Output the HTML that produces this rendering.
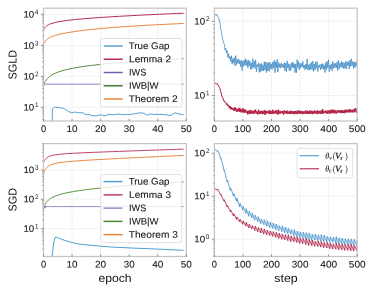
<!DOCTYPE html><html><head><meta charset="utf-8"><style>html,body{margin:0;padding:0;background:#fff;width:374px;height:293px;overflow:hidden}</style></head><body><svg width="374" height="293" viewBox="0 0 374 293" style="position:absolute;left:0;top:0;filter:blur(0.3px)">
<rect width="374" height="293" fill="#fff"/>
<defs>
<clipPath id="cTL"><rect x="43.5" y="8.2" width="142.80" height="112.80"/></clipPath>
<clipPath id="cTR"><rect x="214.4" y="8.2" width="142.80" height="112.80"/></clipPath>
<clipPath id="cBL"><rect x="43.5" y="143.6" width="142.80" height="112.90"/></clipPath>
<clipPath id="cBR"><rect x="214.4" y="143.6" width="142.80" height="112.90"/></clipPath>
</defs>
<line x1="72.06" y1="8.2" x2="72.06" y2="121.0" stroke="#ebebeb" stroke-width="0.9" stroke-dasharray="2.1,0.9"/>
<line x1="100.62" y1="8.2" x2="100.62" y2="121.0" stroke="#ebebeb" stroke-width="0.9" stroke-dasharray="2.1,0.9"/>
<line x1="129.18" y1="8.2" x2="129.18" y2="121.0" stroke="#ebebeb" stroke-width="0.9" stroke-dasharray="2.1,0.9"/>
<line x1="157.74" y1="8.2" x2="157.74" y2="121.0" stroke="#ebebeb" stroke-width="0.9" stroke-dasharray="2.1,0.9"/>
<line x1="43.5" y1="14.40" x2="186.3" y2="14.40" stroke="#ebebeb" stroke-width="0.9" stroke-dasharray="2.1,0.9"/>
<line x1="43.5" y1="45.60" x2="186.3" y2="45.60" stroke="#ebebeb" stroke-width="0.9" stroke-dasharray="2.1,0.9"/>
<line x1="43.5" y1="76.35" x2="186.3" y2="76.35" stroke="#ebebeb" stroke-width="0.9" stroke-dasharray="2.1,0.9"/>
<line x1="43.5" y1="107.30" x2="186.3" y2="107.30" stroke="#ebebeb" stroke-width="0.9" stroke-dasharray="2.1,0.9"/>
<line x1="242.96" y1="8.2" x2="242.96" y2="121.0" stroke="#ebebeb" stroke-width="0.9" stroke-dasharray="2.1,0.9"/>
<line x1="271.52" y1="8.2" x2="271.52" y2="121.0" stroke="#ebebeb" stroke-width="0.9" stroke-dasharray="2.1,0.9"/>
<line x1="300.08" y1="8.2" x2="300.08" y2="121.0" stroke="#ebebeb" stroke-width="0.9" stroke-dasharray="2.1,0.9"/>
<line x1="328.64" y1="8.2" x2="328.64" y2="121.0" stroke="#ebebeb" stroke-width="0.9" stroke-dasharray="2.1,0.9"/>
<line x1="214.4" y1="21.30" x2="357.2" y2="21.30" stroke="#ebebeb" stroke-width="0.9" stroke-dasharray="2.1,0.9"/>
<line x1="214.4" y1="95.50" x2="357.2" y2="95.50" stroke="#ebebeb" stroke-width="0.9" stroke-dasharray="2.1,0.9"/>
<line x1="72.06" y1="143.6" x2="72.06" y2="256.5" stroke="#ebebeb" stroke-width="0.9" stroke-dasharray="2.1,0.9"/>
<line x1="100.62" y1="143.6" x2="100.62" y2="256.5" stroke="#ebebeb" stroke-width="0.9" stroke-dasharray="2.1,0.9"/>
<line x1="129.18" y1="143.6" x2="129.18" y2="256.5" stroke="#ebebeb" stroke-width="0.9" stroke-dasharray="2.1,0.9"/>
<line x1="157.74" y1="143.6" x2="157.74" y2="256.5" stroke="#ebebeb" stroke-width="0.9" stroke-dasharray="2.1,0.9"/>
<line x1="43.5" y1="170.00" x2="186.3" y2="170.00" stroke="#ebebeb" stroke-width="0.9" stroke-dasharray="2.1,0.9"/>
<line x1="43.5" y1="199.20" x2="186.3" y2="199.20" stroke="#ebebeb" stroke-width="0.9" stroke-dasharray="2.1,0.9"/>
<line x1="43.5" y1="228.60" x2="186.3" y2="228.60" stroke="#ebebeb" stroke-width="0.9" stroke-dasharray="2.1,0.9"/>
<line x1="242.96" y1="143.6" x2="242.96" y2="256.5" stroke="#ebebeb" stroke-width="0.9" stroke-dasharray="2.1,0.9"/>
<line x1="271.52" y1="143.6" x2="271.52" y2="256.5" stroke="#ebebeb" stroke-width="0.9" stroke-dasharray="2.1,0.9"/>
<line x1="300.08" y1="143.6" x2="300.08" y2="256.5" stroke="#ebebeb" stroke-width="0.9" stroke-dasharray="2.1,0.9"/>
<line x1="328.64" y1="143.6" x2="328.64" y2="256.5" stroke="#ebebeb" stroke-width="0.9" stroke-dasharray="2.1,0.9"/>
<line x1="214.4" y1="153.20" x2="357.2" y2="153.20" stroke="#ebebeb" stroke-width="0.9" stroke-dasharray="2.1,0.9"/>
<line x1="214.4" y1="196.10" x2="357.2" y2="196.10" stroke="#ebebeb" stroke-width="0.9" stroke-dasharray="2.1,0.9"/>
<line x1="214.4" y1="239.20" x2="357.2" y2="239.20" stroke="#ebebeb" stroke-width="0.9" stroke-dasharray="2.1,0.9"/>
<path d="M43.60,84.15 L183.30,84.15" fill="none" stroke="#8271b8" stroke-width="0.9" stroke-linejoin="round" stroke-linecap="round" clip-path="url(#cTL)" />
<path d="M43.98,84.13 L44.08,83.97 L44.21,83.74 L44.36,83.42 L44.54,83.03 L44.76,82.57 L45.02,82.03 L45.35,81.43 L45.74,80.77 L46.21,80.05 L46.78,79.28 L47.48,78.47 L48.32,77.61 L49.34,76.72 L50.57,75.80 L52.07,74.84 L55.43,73.15 L58.80,71.84 L62.16,70.76 L65.53,69.86 L68.89,69.07 L72.26,68.37 L75.62,67.75 L78.99,67.18 L82.35,66.66 L85.72,66.18 L89.08,65.74 L92.45,65.32 L95.81,64.93 L99.18,64.56 L102.54,64.21 L105.91,63.88 L109.27,63.56 L112.64,63.26 L116.00,62.97 L119.37,62.69 L122.73,62.42 L126.10,62.16 L129.46,61.91 L132.83,61.67 L136.19,61.44 L139.56,61.22 L142.92,61.00 L146.29,60.79 L149.65,60.58 L153.02,60.38 L156.38,60.18 L159.75,59.99 L163.11,59.81 L166.48,59.62 L169.84,59.45 L173.21,59.27 L176.57,59.10 L179.94,58.94 L183.30,58.78" fill="none" stroke="#428030" stroke-width="0.9" stroke-linejoin="round" stroke-linecap="round" clip-path="url(#cTL)" />
<path d="M43.60,44.29 L43.63,44.23 L43.65,44.16 L43.68,44.07 L43.72,43.97 L43.77,43.85 L43.83,43.71 L43.90,43.55 L43.98,43.36 L44.08,43.14 L44.21,42.88 L44.36,42.59 L44.54,42.26 L44.76,41.90 L45.02,41.50 L45.35,41.06 L45.74,40.59 L46.21,40.08 L46.78,39.55 L47.48,38.99 L48.32,38.41 L49.34,37.82 L50.57,37.20 L52.07,36.56 L55.43,35.41 L58.80,34.50 L62.16,33.73 L65.53,33.06 L68.89,32.45 L72.26,31.91 L75.62,31.41 L78.99,30.94 L82.35,30.51 L85.72,30.10 L89.08,29.72 L92.45,29.36 L95.81,29.02 L99.18,28.69 L102.54,28.38 L105.91,28.08 L109.27,27.80 L112.64,27.52 L116.00,27.26 L119.37,27.01 L122.73,26.77 L126.10,26.53 L129.46,26.31 L132.83,26.09 L136.19,25.88 L139.56,25.68 L142.92,25.48 L146.29,25.29 L149.65,25.10 L153.02,24.92 L156.38,24.75 L159.75,24.58 L163.11,24.41 L166.48,24.25 L169.84,24.09 L173.21,23.94 L176.57,23.79 L179.94,23.65 L183.30,23.51" fill="none" stroke="#e8863e" stroke-width="1.0" stroke-linejoin="round" stroke-linecap="round" clip-path="url(#cTL)" />
<path d="M43.60,29.87 L43.63,29.81 L43.65,29.75 L43.68,29.67 L43.72,29.57 L43.77,29.46 L43.83,29.34 L43.90,29.19 L43.98,29.01 L44.08,28.81 L44.21,28.59 L44.36,28.33 L44.54,28.05 L44.76,27.73 L45.02,27.39 L45.35,27.02 L45.74,26.62 L46.21,26.19 L46.78,25.75 L47.48,25.29 L48.32,24.81 L49.34,24.32 L50.57,23.82 L52.07,23.32 L55.43,22.42 L58.80,21.73 L62.16,21.16 L65.53,20.67 L68.89,20.24 L72.26,19.86 L75.62,19.50 L78.99,19.18 L82.35,18.87 L85.72,18.58 L89.08,18.31 L92.45,18.05 L95.81,17.81 L99.18,17.57 L102.54,17.34 L105.91,17.12 L109.27,16.90 L112.64,16.70 L116.00,16.49 L119.37,16.30 L122.73,16.11 L126.10,15.92 L129.46,15.74 L132.83,15.56 L136.19,15.38 L139.56,15.21 L142.92,15.04 L146.29,14.88 L149.65,14.72 L153.02,14.56 L156.38,14.40 L159.75,14.24 L163.11,14.09 L166.48,13.94 L169.84,13.79 L173.21,13.65 L176.57,13.50 L179.94,13.36 L183.30,13.22" fill="none" stroke="#b32a55" stroke-width="1.0" stroke-linejoin="round" stroke-linecap="round" clip-path="url(#cTL)" />
<path d="M52.30,125.40 L52.30,109.00 L53.60,107.70 L55.60,107.00 L59.00,107.70 L62.70,108.10 L65.40,109.50 L68.60,111.60 L71.80,112.70 L75.00,112.00 L78.20,112.70 L83.00,112.80 L85.00,114.40 L88.00,114.40 L93.00,115.80 L97.00,115.80 L101.00,114.80 L105.00,115.80 L109.00,114.40 L114.00,114.80 L118.00,114.00 L123.00,114.80 L127.00,114.40 L131.00,114.40 L135.00,113.60 L141.00,112.80 L144.00,113.40 L147.00,115.20 L150.00,114.00 L155.00,114.40 L161.00,114.40 L166.00,114.80 L170.00,115.60 L175.00,112.80 L179.00,114.00 L183.30,114.80" fill="none" stroke="#5aa3d0" stroke-width="1.0" stroke-linejoin="round" stroke-linecap="round" clip-path="url(#cTL)" />
<path d="M43.60,207.90 L43.63,207.89 L43.65,207.88 L43.67,207.87 L43.70,207.85 L43.75,207.83 L43.83,207.80 L43.94,207.76 L44.10,207.70 L44.30,207.63 L44.54,207.53 L44.81,207.42 L45.11,207.31 L45.43,207.19 L45.77,207.08 L46.13,206.98 L46.50,206.90 L46.01,206.84 L44.28,206.78 L42.07,206.74 L40.12,206.70 L39.21,206.67 L40.06,206.64 L43.44,206.62 L50.10,206.60 L61.46,206.59 L77.41,206.58 L96.41,206.58 L116.93,206.58 L137.41,206.59 L156.33,206.59 L172.14,206.60 L183.30,206.60" fill="none" stroke="#9c8cc8" stroke-width="1.0" stroke-linejoin="round" stroke-linecap="round" clip-path="url(#cBL)" />
<path d="M43.60,208.29 L43.63,208.39 L43.65,208.46 L43.68,208.49 L43.72,208.47 L43.77,208.41 L43.83,208.28 L43.90,208.08 L43.98,207.81 L44.08,207.48 L44.21,207.07 L44.36,206.59 L44.54,206.06 L44.76,205.46 L45.02,204.81 L45.35,204.12 L45.74,203.38 L46.21,202.61 L46.78,201.82 L47.48,201.00 L48.32,200.16 L49.34,199.31 L50.57,198.44 L52.07,197.57 L55.43,196.03 L58.80,194.86 L62.16,193.91 L65.53,193.10 L68.89,192.39 L72.26,191.76 L75.62,191.19 L78.99,190.66 L82.35,190.18 L85.72,189.73 L89.08,189.30 L92.45,188.90 L95.81,188.52 L99.18,188.16 L102.54,187.81 L105.91,187.48 L109.27,187.16 L112.64,186.85 L116.00,186.55 L119.37,186.26 L122.73,185.98 L126.10,185.71 L129.46,185.44 L132.83,185.19 L136.19,184.93 L139.56,184.69 L142.92,184.45 L146.29,184.21 L149.65,183.98 L153.02,183.76 L156.38,183.54 L159.75,183.32 L163.11,183.11 L166.48,182.90 L169.84,182.69 L173.21,182.49 L176.57,182.29 L179.94,182.10 L183.30,181.90" fill="none" stroke="#4b8a33" stroke-width="0.9" stroke-linejoin="round" stroke-linecap="round" clip-path="url(#cBL)" />
<path d="M43.60,173.22 L43.63,173.19 L43.65,173.15 L43.68,173.10 L43.72,173.02 L43.77,172.93 L43.83,172.80 L43.90,172.63 L43.98,172.42 L44.08,172.17 L44.21,171.86 L44.36,171.49 L44.54,171.06 L44.76,170.58 L45.02,170.05 L45.35,169.48 L45.74,168.86 L46.21,168.22 L46.78,167.56 L47.48,166.90 L48.32,166.24 L49.34,165.60 L50.57,164.97 L52.07,164.38 L55.43,163.42 L58.80,162.76 L62.16,162.27 L65.53,161.88 L68.89,161.54 L72.26,161.26 L75.62,160.99 L78.99,160.76 L82.35,160.53 L85.72,160.32 L89.08,160.12 L92.45,159.93 L95.81,159.74 L99.18,159.55 L102.54,159.37 L105.91,159.20 L109.27,159.02 L112.64,158.85 L116.00,158.68 L119.37,158.51 L122.73,158.34 L126.10,158.17 L129.46,158.00 L132.83,157.84 L136.19,157.67 L139.56,157.51 L142.92,157.35 L146.29,157.18 L149.65,157.02 L153.02,156.86 L156.38,156.70 L159.75,156.54 L163.11,156.38 L166.48,156.22 L169.84,156.06 L173.21,155.90 L176.57,155.74 L179.94,155.58 L183.30,155.42" fill="none" stroke="#e8863e" stroke-width="1.0" stroke-linejoin="round" stroke-linecap="round" clip-path="url(#cBL)" />
<path d="M43.60,162.01 L43.63,161.99 L43.65,161.96 L43.68,161.93 L43.72,161.87 L43.77,161.80 L43.83,161.71 L43.90,161.59 L43.98,161.44 L44.08,161.25 L44.21,161.02 L44.36,160.75 L44.54,160.44 L44.76,160.08 L45.02,159.69 L45.35,159.26 L45.74,158.81 L46.21,158.34 L46.78,157.86 L47.48,157.37 L48.32,156.89 L49.34,156.42 L50.57,155.97 L52.07,155.54 L55.43,154.85 L58.80,154.39 L62.16,154.04 L65.53,153.76 L68.89,153.53 L72.26,153.32 L75.62,153.14 L78.99,152.97 L82.35,152.82 L85.72,152.67 L89.08,152.53 L92.45,152.39 L95.81,152.26 L99.18,152.12 L102.54,152.00 L105.91,151.87 L109.27,151.74 L112.64,151.62 L116.00,151.50 L119.37,151.37 L122.73,151.25 L126.10,151.13 L129.46,151.01 L132.83,150.89 L136.19,150.77 L139.56,150.65 L142.92,150.53 L146.29,150.41 L149.65,150.29 L153.02,150.17 L156.38,150.06 L159.75,149.94 L163.11,149.82 L166.48,149.70 L169.84,149.58 L173.21,149.47 L176.57,149.35 L179.94,149.23 L183.30,149.11" fill="none" stroke="#bd4068" stroke-width="1.0" stroke-linejoin="round" stroke-linecap="round" clip-path="url(#cBL)" />
<path d="M52.00,258.00 L53.10,247.30 L54.20,240.80 L55.20,237.40 L57.40,237.40 L60.00,238.70 L65.40,240.60 L70.70,242.10 L76.10,243.50 L81.40,244.30 L90.00,245.20 L99.70,246.10 L109.30,246.90 L128.90,247.90 L157.70,249.10 L183.30,250.30" fill="none" stroke="#4e9fd2" stroke-width="1.0" stroke-linejoin="round" stroke-linecap="round" clip-path="url(#cBL)" />
<path d="M215.00,15.28 L215.71,14.03 L216.43,15.39 L217.14,14.61 L217.86,17.19 L218.57,17.80 L219.28,20.00 L220.00,23.17 L220.71,29.64 L221.43,31.68 L222.14,36.82 L222.85,39.64 L223.57,42.80 L224.28,43.88 L225.00,49.91 L225.71,48.17 L226.42,53.04 L227.14,50.37 L227.85,57.40 L228.57,53.85 L229.28,58.82 L229.99,56.57 L230.71,61.69 L231.42,55.76 L232.14,64.32 L232.85,58.63 L233.56,62.87 L234.28,57.57 L234.99,65.69 L235.71,55.63 L236.42,64.81 L237.13,59.52 L237.85,63.34 L238.56,58.81 L239.28,64.08 L239.99,60.23 L240.70,66.57 L241.42,60.37 L242.13,70.55 L242.85,60.95 L243.56,66.27 L244.27,60.11 L244.99,65.43 L245.70,58.60 L246.42,65.51 L247.13,60.36 L247.84,67.66 L248.56,60.19 L249.27,66.05 L249.99,61.06 L250.70,69.32 L251.41,63.02 L252.13,68.91 L252.84,58.81 L253.56,67.26 L254.27,61.31 L254.98,68.60 L255.70,59.93 L256.41,71.75 L257.13,64.45 L257.84,66.97 L258.55,62.76 L259.27,72.42 L259.98,63.87 L260.70,71.62 L261.41,63.39 L262.12,70.99 L262.84,64.78 L263.55,70.77 L264.27,61.69 L264.98,70.13 L265.69,61.98 L266.41,72.60 L267.12,62.70 L267.84,70.75 L268.55,62.63 L269.26,71.50 L269.98,62.33 L270.69,68.75 L271.41,64.18 L272.12,69.55 L272.83,61.99 L273.55,67.63 L274.26,60.21 L274.98,72.76 L275.69,61.79 L276.40,67.84 L277.12,59.30 L277.83,72.13 L278.55,62.50 L279.26,67.39 L279.97,63.74 L280.69,68.27 L281.40,63.15 L282.12,67.15 L282.83,64.17 L283.54,67.97 L284.26,62.66 L284.97,70.68 L285.69,63.07 L286.40,71.60 L287.11,60.80 L287.83,67.92 L288.54,63.76 L289.26,70.62 L289.97,64.48 L290.68,70.61 L291.40,62.95 L292.11,67.90 L292.83,61.96 L293.54,67.75 L294.25,63.58 L294.97,72.68 L295.68,63.97 L296.40,72.68 L297.11,59.73 L297.82,67.62 L298.54,61.56 L299.25,70.00 L299.97,63.31 L300.68,67.93 L301.39,63.54 L302.11,66.93 L302.82,61.27 L303.54,68.15 L304.25,64.98 L304.96,69.78 L305.68,64.12 L306.39,69.06 L307.11,58.88 L307.82,69.84 L308.53,64.78 L309.25,70.23 L309.96,63.71 L310.68,69.30 L311.39,62.37 L312.10,69.70 L312.82,60.99 L313.53,71.49 L314.25,64.02 L314.96,70.07 L315.67,61.91 L316.39,68.22 L317.10,61.57 L317.82,71.48 L318.53,65.48 L319.24,67.46 L319.96,64.42 L320.67,69.91 L321.39,64.11 L322.10,68.85 L322.81,63.63 L323.53,69.23 L324.24,64.96 L324.96,72.51 L325.67,62.70 L326.38,69.68 L327.10,61.30 L327.81,67.94 L328.53,59.71 L329.24,71.67 L329.95,64.97 L330.67,68.94 L331.38,63.80 L332.10,70.95 L332.81,61.52 L333.52,68.48 L334.24,63.42 L334.95,67.70 L335.67,63.23 L336.38,68.08 L337.09,61.78 L337.81,70.63 L338.52,60.16 L339.24,68.81 L339.95,63.04 L340.66,67.01 L341.38,61.61 L342.09,67.63 L342.81,62.08 L343.52,68.56 L344.23,63.00 L344.95,68.51 L345.66,61.09 L346.38,69.03 L347.09,61.61 L347.80,65.54 L348.52,61.72 L349.23,69.04 L349.95,60.11 L350.66,66.35 L351.37,58.87 L352.09,65.89 L352.80,61.67 L353.52,68.29 L354.23,61.83 L354.94,67.67 L355.66,62.40 L356.37,66.15 L357.09,60.41" fill="none" stroke="#3385c2" stroke-width="0.72" stroke-linejoin="round" stroke-linecap="round" clip-path="url(#cTR)" />
<path d="M215.00,83.66 L215.71,83.19 L216.43,83.95 L217.14,83.65 L217.86,85.13 L218.57,85.36 L219.28,87.45 L220.00,88.61 L220.71,91.73 L221.43,94.07 L222.14,97.13 L222.85,97.79 L223.57,100.82 L224.28,100.71 L225.00,102.47 L225.71,102.16 L226.42,104.65 L227.14,103.56 L227.85,106.06 L228.57,104.91 L229.28,108.31 L229.99,105.81 L230.71,109.31 L231.42,107.15 L232.14,109.63 L232.85,107.94 L233.56,110.87 L234.28,107.33 L234.99,110.70 L235.71,107.57 L236.42,111.82 L237.13,108.88 L237.85,111.65 L238.56,107.97 L239.28,111.75 L239.99,107.96 L240.70,112.21 L241.42,109.52 L242.13,112.46 L242.85,108.16 L243.56,112.51 L244.27,109.04 L244.99,112.82 L245.70,109.72 L246.42,112.85 L247.13,110.76 L247.84,114.51 L248.56,110.74 L249.27,113.75 L249.99,109.92 L250.70,113.88 L251.41,110.63 L252.13,113.77 L252.84,110.81 L253.56,114.05 L254.27,110.08 L254.98,113.41 L255.70,109.56 L256.41,113.44 L257.13,111.24 L257.84,114.53 L258.55,109.74 L259.27,114.13 L259.98,110.77 L260.70,113.85 L261.41,110.93 L262.12,114.13 L262.84,110.85 L263.55,113.88 L264.27,110.14 L264.98,114.95 L265.69,110.65 L266.41,113.51 L267.12,110.78 L267.84,113.38 L268.55,110.91 L269.26,114.08 L269.98,109.95 L270.69,113.99 L271.41,111.14 L272.12,114.02 L272.83,109.66 L273.55,113.91 L274.26,111.24 L274.98,113.56 L275.69,110.22 L276.40,113.57 L277.12,110.26 L277.83,114.76 L278.55,109.74 L279.26,113.93 L279.97,110.87 L280.69,113.40 L281.40,111.21 L282.12,113.40 L282.83,110.96 L283.54,114.73 L284.26,110.19 L284.97,113.56 L285.69,110.99 L286.40,113.63 L287.11,110.48 L287.83,113.89 L288.54,111.55 L289.26,114.00 L289.97,110.69 L290.68,113.96 L291.40,110.86 L292.11,113.83 L292.83,111.11 L293.54,114.10 L294.25,110.98 L294.97,114.15 L295.68,110.99 L296.40,113.74 L297.11,110.75 L297.82,114.12 L298.54,110.45 L299.25,113.67 L299.97,110.58 L300.68,113.54 L301.39,111.21 L302.11,114.23 L302.82,111.05 L303.54,113.97 L304.25,111.24 L304.96,113.83 L305.68,110.59 L306.39,113.83 L307.11,110.62 L307.82,114.06 L308.53,111.28 L309.25,113.83 L309.96,110.37 L310.68,113.66 L311.39,110.79 L312.10,114.26 L312.82,111.02 L313.53,113.84 L314.25,110.38 L314.96,113.55 L315.67,111.23 L316.39,113.86 L317.10,110.15 L317.82,114.13 L318.53,110.95 L319.24,113.52 L319.96,110.63 L320.67,113.87 L321.39,110.47 L322.10,114.01 L322.81,109.00 L323.53,113.44 L324.24,111.09 L324.96,113.07 L325.67,110.63 L326.38,113.47 L327.10,110.52 L327.81,113.76 L328.53,110.72 L329.24,113.52 L329.95,109.85 L330.67,113.44 L331.38,109.73 L332.10,113.38 L332.81,109.64 L333.52,113.10 L334.24,109.78 L334.95,113.62 L335.67,110.46 L336.38,113.59 L337.09,110.55 L337.81,112.77 L338.52,110.05 L339.24,112.70 L339.95,110.10 L340.66,113.01 L341.38,110.02 L342.09,113.32 L342.81,110.30 L343.52,112.97 L344.23,110.10 L344.95,113.28 L345.66,109.56 L346.38,112.31 L347.09,109.77 L347.80,112.54 L348.52,109.57 L349.23,112.39 L349.95,109.20 L350.66,112.28 L351.37,109.84 L352.09,112.49 L352.80,109.68 L353.52,112.37 L354.23,108.72 L354.94,112.12 L355.66,108.10 L356.37,112.69 L357.09,109.11" fill="none" stroke="#b0173f" stroke-width="1.0" stroke-linejoin="round" stroke-linecap="round" clip-path="url(#cTR)" />
<path d="M214.97,149.65 L215.04,149.68 L215.11,149.71 L215.19,149.75 L215.26,149.78 L215.33,149.82 L215.40,149.86 L215.47,149.89 L215.54,149.93 L215.61,149.97 L215.69,150.01 L215.76,150.05 L215.83,150.09 L215.90,150.13 L215.97,150.17 L216.04,150.21 L216.11,150.26 L216.19,150.30 L216.26,150.35 L216.33,150.39 L216.40,150.44 L216.47,150.48 L216.54,150.53 L216.61,150.58 L216.68,150.63 L216.76,150.67 L216.83,150.72 L216.90,150.77 L216.97,150.89 L217.04,151.01 L217.11,151.12 L217.18,151.24 L217.26,151.36 L217.33,151.39 L217.40,151.26 L217.47,151.12 L217.54,150.99 L217.61,150.84 L217.68,150.69 L217.76,150.80 L217.83,150.92 L217.90,151.03 L217.97,151.14 L218.04,151.25 L218.11,151.37 L218.18,151.48 L218.26,151.60 L218.33,151.72 L218.40,151.83 L218.47,151.95 L218.54,152.07 L218.61,152.19 L218.68,152.31 L218.76,152.43 L218.83,152.60 L218.90,152.85 L218.97,153.10 L219.04,153.35 L219.11,153.59 L219.18,153.84 L219.26,154.10 L219.33,154.35 L219.40,154.60 L219.47,154.85 L219.54,155.11 L219.61,155.36 L219.68,155.62 L219.75,155.87 L219.83,156.13 L219.90,156.39 L219.97,156.64 L220.04,156.90 L220.11,157.16 L220.18,157.42 L220.25,157.68 L220.33,157.94 L220.40,158.20 L220.47,158.46 L220.54,158.72 L220.61,158.98 L220.68,158.90 L220.75,158.80 L220.83,158.69 L220.90,158.59 L220.97,158.48 L221.04,158.43 L221.11,158.69 L221.18,158.95 L221.25,159.21 L221.33,159.47 L221.40,159.73 L221.47,159.99 L221.54,160.25 L221.61,160.51 L221.68,160.77 L221.75,161.03 L221.83,161.30 L221.90,161.56 L221.97,161.82 L222.04,162.09 L222.11,162.35 L222.18,162.62 L222.25,162.88 L222.33,163.15 L222.40,163.42 L222.47,163.68 L222.54,163.95 L222.61,164.22 L222.68,164.49 L222.75,164.81 L222.83,165.16 L222.90,165.50 L222.97,165.85 L223.04,166.19 L223.11,166.54 L223.18,166.89 L223.25,167.23 L223.33,167.58 L223.40,167.93 L223.47,168.28 L223.54,168.63 L223.61,168.98 L223.68,169.33 L223.75,169.68 L223.82,170.03 L223.90,170.38 L223.97,170.54 L224.04,170.40 L224.11,170.25 L224.18,170.10 L224.25,169.95 L224.32,169.85 L224.40,170.20 L224.47,170.55 L224.54,170.90 L224.61,171.25 L224.68,171.55 L224.75,171.85 L224.82,172.16 L224.90,172.46 L224.97,172.77 L225.04,173.08 L225.11,173.38 L225.18,173.69 L225.25,174.00 L225.32,174.31 L225.40,174.62 L225.47,174.93 L225.54,175.24 L225.61,175.55 L225.68,175.86 L225.75,176.17 L225.82,176.48 L225.90,176.80 L225.97,177.11 L226.04,177.42 L226.11,177.74 L226.18,178.05 L226.25,178.37 L226.32,178.68 L226.40,179.00 L226.47,179.32 L226.54,179.63 L226.61,179.95 L226.68,180.22 L226.75,180.50 L226.82,180.77 L226.90,181.05 L226.97,181.32 L227.04,181.60 L227.11,181.88 L227.18,182.04 L227.25,181.71 L227.32,181.38 L227.39,181.05 L227.47,180.71 L227.54,180.37 L227.61,180.53 L227.68,180.80 L227.75,181.07 L227.82,181.34 L227.89,181.62 L227.97,181.89 L228.04,182.16 L228.11,182.44 L228.18,182.71 L228.25,182.99 L228.32,183.26 L228.39,183.54 L228.47,183.82 L228.54,184.09 L228.61,184.37 L228.68,184.65 L228.75,184.93 L228.82,185.21 L228.89,185.49 L228.97,185.77 L229.04,186.05 L229.11,186.33 L229.18,186.62 L229.25,186.90 L229.32,187.18 L229.39,187.47 L229.47,187.75 L229.54,188.00 L229.61,188.21 L229.68,188.42 L229.75,188.63 L229.82,188.85 L229.89,189.06 L229.97,189.27 L230.04,189.49 L230.11,189.70 L230.18,189.92 L230.25,190.14 L230.32,190.35 L230.39,189.89 L230.47,189.52 L230.54,189.16 L230.61,188.79 L230.68,188.42 L230.75,188.20 L230.82,188.39 L230.89,188.59 L230.96,188.78 L231.04,188.97 L231.11,189.16 L231.18,189.36 L231.25,189.55 L231.32,189.75 L231.39,189.94 L231.46,190.14 L231.54,190.34 L231.61,190.53 L231.68,190.73 L231.75,190.93 L231.82,191.12 L231.89,191.32 L231.96,191.52 L232.04,191.72 L232.11,191.92 L232.18,192.12 L232.25,192.32 L232.32,192.52 L232.39,192.72 L232.46,192.92 L232.54,193.13 L232.61,193.33 L232.68,193.54 L232.75,193.74 L232.82,193.95 L232.89,194.15 L232.96,194.36 L233.04,194.56 L233.11,194.77 L233.18,194.98 L233.25,195.19 L233.32,195.39 L233.39,195.60 L233.46,195.81 L233.54,195.62 L233.61,195.20 L233.68,194.78 L233.75,194.36 L233.82,193.94 L233.89,193.72 L233.96,193.92 L234.03,194.13 L234.11,194.33 L234.18,194.53 L234.25,194.73 L234.32,194.94 L234.39,195.14 L234.46,195.34 L234.53,195.55 L234.61,195.75 L234.68,195.96 L234.75,196.16 L234.82,196.37 L234.89,196.58 L234.96,196.78 L235.03,196.99 L235.11,197.20 L235.18,197.41 L235.25,197.62 L235.32,197.82 L235.39,198.01 L235.46,198.20 L235.53,198.39 L235.61,198.59 L235.68,198.78 L235.75,198.97 L235.82,199.17 L235.89,199.36 L235.96,199.56 L236.03,199.75 L236.11,199.95 L236.18,200.14 L236.25,200.34 L236.32,200.54 L236.39,200.73 L236.46,200.93 L236.53,201.13 L236.61,201.33 L236.68,201.28 L236.75,200.53 L236.82,199.77 L236.89,199.01 L236.96,198.25 L237.03,198.21 L237.11,198.43 L237.18,198.66 L237.25,198.88 L237.32,199.11 L237.39,199.34 L237.46,199.57 L237.53,199.80 L237.60,200.03 L237.68,200.26 L237.75,200.49 L237.82,200.72 L237.89,200.95 L237.96,201.19 L238.03,201.42 L238.10,201.65 L238.18,201.89 L238.25,202.12 L238.32,202.36 L238.39,202.59 L238.46,202.83 L238.53,203.07 L238.60,203.31 L238.68,203.54 L238.75,203.78 L238.82,204.02 L238.89,204.26 L238.96,204.50 L239.03,204.75 L239.10,204.99 L239.18,205.23 L239.25,205.47 L239.32,205.72 L239.39,205.96 L239.46,206.21 L239.53,206.45 L239.60,206.70 L239.68,206.94 L239.75,206.14 L239.82,205.49 L239.89,204.83 L239.96,204.18 L240.03,203.51 L240.10,203.23 L240.18,203.44 L240.25,203.65 L240.32,203.87 L240.39,204.08 L240.46,204.30 L240.53,204.49 L240.60,204.67 L240.68,204.85 L240.75,205.02 L240.82,205.20 L240.89,205.38 L240.96,205.55 L241.03,205.73 L241.10,205.91 L241.18,206.09 L241.25,206.27 L241.32,206.45 L241.39,206.63 L241.46,206.81 L241.53,206.99 L241.60,207.18 L241.67,207.36 L241.75,207.54 L241.82,207.73 L241.89,207.91 L241.96,208.09 L242.03,208.28 L242.10,208.47 L242.17,208.65 L242.25,208.84 L242.32,209.02 L242.39,209.21 L242.46,209.40 L242.53,209.59 L242.60,209.78 L242.67,209.97 L242.75,210.15 L242.82,209.77 L242.89,209.01 L242.96,208.25 L243.03,207.49 L243.10,206.72 L243.17,206.38 L243.25,206.56 L243.32,206.75 L243.39,206.93 L243.46,207.12 L243.53,207.30 L243.60,207.49 L243.67,207.67 L243.75,207.86 L243.82,208.04 L243.89,208.23 L243.96,208.41 L244.03,208.60 L244.10,208.79 L244.17,208.97 L244.25,209.16 L244.32,209.34 L244.39,209.53 L244.46,209.72 L244.53,209.90 L244.60,210.09 L244.67,210.28 L244.75,210.46 L244.82,210.65 L244.89,210.84 L244.96,211.02 L245.03,211.21 L245.10,211.40 L245.17,211.58 L245.24,211.77 L245.32,211.96 L245.39,212.15 L245.46,212.34 L245.53,212.52 L245.60,212.71 L245.67,212.90 L245.74,213.09 L245.82,213.28 L245.89,213.11 L245.96,212.04 L246.03,210.97 L246.10,209.90 L246.17,208.83 L246.24,208.74 L246.32,208.97 L246.39,209.19 L246.46,209.42 L246.53,209.65 L246.60,209.88 L246.67,210.08 L246.74,210.28 L246.82,210.49 L246.89,210.69 L246.96,210.90 L247.03,211.10 L247.10,211.31 L247.17,211.51 L247.24,211.72 L247.32,211.92 L247.39,212.13 L247.46,212.33 L247.53,212.54 L247.60,212.74 L247.67,212.95 L247.74,213.15 L247.82,213.36 L247.89,213.57 L247.96,213.77 L248.03,213.98 L248.10,214.19 L248.17,214.39 L248.24,214.60 L248.31,214.81 L248.39,215.01 L248.46,215.22 L248.53,215.43 L248.60,215.64 L248.67,215.84 L248.74,216.05 L248.81,216.26 L248.89,215.44 L248.96,214.53 L249.03,213.61 L249.10,212.70 L249.17,211.78 L249.24,211.28 L249.31,211.46 L249.39,211.64 L249.46,211.82 L249.53,212.00 L249.60,212.18 L249.67,212.36 L249.74,212.54 L249.81,212.72 L249.89,212.90 L249.96,213.08 L250.03,213.26 L250.10,213.44 L250.17,213.62 L250.24,213.80 L250.31,213.98 L250.39,214.16 L250.46,214.34 L250.53,214.52 L250.60,214.70 L250.67,214.88 L250.74,215.06 L250.81,215.24 L250.89,215.42 L250.96,215.60 L251.03,215.79 L251.10,215.97 L251.17,216.15 L251.24,216.33 L251.31,216.51 L251.39,216.69 L251.46,216.88 L251.53,217.06 L251.60,217.24 L251.67,217.42 L251.74,217.61 L251.81,217.79 L251.88,217.92 L251.96,216.84 L252.03,215.76 L252.10,214.68 L252.17,213.59 L252.24,212.89 L252.31,213.09 L252.38,213.29 L252.46,213.50 L252.53,213.70 L252.60,213.90 L252.67,214.10 L252.74,214.30 L252.81,214.50 L252.88,214.70 L252.96,214.89 L253.03,215.09 L253.10,215.29 L253.17,215.49 L253.24,215.69 L253.31,215.89 L253.38,216.09 L253.46,216.29 L253.53,216.49 L253.60,216.69 L253.67,216.88 L253.74,217.08 L253.81,217.28 L253.88,217.48 L253.96,217.68 L254.03,217.88 L254.10,218.08 L254.17,218.28 L254.24,218.48 L254.31,218.68 L254.38,218.89 L254.46,219.09 L254.53,219.29 L254.60,219.49 L254.67,219.69 L254.74,219.89 L254.81,220.09 L254.88,219.54 L254.96,218.59 L255.03,217.63 L255.10,216.68 L255.17,215.72 L255.24,215.10 L255.31,215.28 L255.38,215.46 L255.45,215.64 L255.53,215.82 L255.60,216.00 L255.67,216.18 L255.74,216.36 L255.81,216.54 L255.88,216.72 L255.95,216.90 L256.03,217.09 L256.10,217.27 L256.17,217.45 L256.24,217.63 L256.31,217.81 L256.38,217.99 L256.45,218.17 L256.53,218.35 L256.60,218.54 L256.67,218.72 L256.74,218.90 L256.81,219.08 L256.88,219.26 L256.95,219.45 L257.03,219.63 L257.10,219.81 L257.17,219.99 L257.24,220.17 L257.31,220.36 L257.38,220.54 L257.45,220.72 L257.53,220.90 L257.60,221.09 L257.67,221.27 L257.74,221.45 L257.81,221.64 L257.88,221.58 L257.95,220.55 L258.03,219.51 L258.10,218.48 L258.17,217.44 L258.24,216.77 L258.31,216.96 L258.38,217.15 L258.45,217.34 L258.53,217.53 L258.60,217.72 L258.67,217.91 L258.74,218.11 L258.81,218.30 L258.88,218.49 L258.95,218.68 L259.02,218.87 L259.10,219.06 L259.17,219.26 L259.24,219.45 L259.31,219.64 L259.38,219.83 L259.45,220.02 L259.52,220.22 L259.60,220.41 L259.67,220.60 L259.74,220.80 L259.81,220.99 L259.88,221.18 L259.95,221.37 L260.02,221.57 L260.10,221.76 L260.17,221.95 L260.24,222.15 L260.31,222.34 L260.38,222.53 L260.45,222.73 L260.52,222.92 L260.60,223.12 L260.67,223.31 L260.74,223.50 L260.81,223.70 L260.88,223.03 L260.95,222.18 L261.02,221.31 L261.10,220.45 L261.17,219.59 L261.24,219.02 L261.31,219.17 L261.38,219.32 L261.45,219.47 L261.52,219.62 L261.60,219.77 L261.67,219.92 L261.74,220.07 L261.81,220.22 L261.88,220.37 L261.95,220.52 L262.02,220.67 L262.10,220.82 L262.17,220.97 L262.24,221.12 L262.31,221.27 L262.38,221.42 L262.45,221.57 L262.52,221.72 L262.60,221.87 L262.67,222.03 L262.74,222.18 L262.81,222.33 L262.88,222.48 L262.95,222.63 L263.02,222.78 L263.09,222.93 L263.17,223.08 L263.24,223.24 L263.31,223.39 L263.38,223.54 L263.45,223.69 L263.52,223.84 L263.59,223.99 L263.67,224.15 L263.74,224.30 L263.81,224.45 L263.88,224.70 L263.95,223.63 L264.02,222.55 L264.09,221.47 L264.17,220.39 L264.24,219.68 L264.31,219.86 L264.38,220.04 L264.45,220.22 L264.52,220.40 L264.59,220.58 L264.67,220.76 L264.74,220.93 L264.81,221.11 L264.88,221.29 L264.95,221.47 L265.02,221.65 L265.09,221.83 L265.17,222.01 L265.24,222.19 L265.31,222.37 L265.38,222.55 L265.45,222.73 L265.52,222.91 L265.59,223.09 L265.67,223.27 L265.74,223.45 L265.81,223.63 L265.88,223.81 L265.95,224.00 L266.02,224.18 L266.09,224.36 L266.17,224.54 L266.24,224.72 L266.31,224.90 L266.38,225.08 L266.45,225.26 L266.52,225.45 L266.59,225.63 L266.66,225.81 L266.74,225.99 L266.81,226.17 L266.88,226.14 L266.95,224.95 L267.02,223.76 L267.09,222.57 L267.16,221.38 L267.24,220.59 L267.31,220.79 L267.38,220.98 L267.45,221.18 L267.52,221.37 L267.59,221.56 L267.66,221.76 L267.74,221.95 L267.81,222.15 L267.88,222.34 L267.95,222.54 L268.02,222.73 L268.09,222.93 L268.16,223.12 L268.24,223.32 L268.31,223.52 L268.38,223.71 L268.45,223.91 L268.52,224.10 L268.59,224.30 L268.66,224.49 L268.74,224.69 L268.81,224.89 L268.88,225.08 L268.95,225.28 L269.02,225.48 L269.09,225.67 L269.16,225.87 L269.24,226.07 L269.31,226.26 L269.38,226.46 L269.45,226.66 L269.52,226.86 L269.59,227.05 L269.66,227.25 L269.74,227.45 L269.81,227.65 L269.88,227.05 L269.95,225.99 L270.02,224.93 L270.09,223.87 L270.16,222.81 L270.23,222.12 L270.31,222.29 L270.38,222.47 L270.45,222.64 L270.52,222.82 L270.59,223.00 L270.66,223.17 L270.73,223.35 L270.81,223.53 L270.88,223.70 L270.95,223.88 L271.02,224.06 L271.09,224.24 L271.16,224.41 L271.23,224.59 L271.31,224.76 L271.38,224.93 L271.45,225.11 L271.52,225.28 L271.59,225.46 L271.66,225.63 L271.73,225.80 L271.81,225.98 L271.88,226.15 L271.95,226.33 L272.02,226.50 L272.09,226.68 L272.16,226.85 L272.23,227.02 L272.31,227.20 L272.38,227.37 L272.45,227.55 L272.52,227.72 L272.59,227.90 L272.66,228.07 L272.73,228.25 L272.81,228.42 L272.88,228.39 L272.95,227.22 L273.02,226.05 L273.09,224.87 L273.16,223.70 L273.23,222.93 L273.31,223.11 L273.38,223.30 L273.45,223.49 L273.52,223.68 L273.59,223.86 L273.66,224.05 L273.73,224.24 L273.80,224.43 L273.88,224.61 L273.95,224.80 L274.02,224.99 L274.09,225.18 L274.16,225.37 L274.23,225.55 L274.30,225.74 L274.38,225.93 L274.45,226.12 L274.52,226.31 L274.59,226.50 L274.66,226.69 L274.73,226.88 L274.80,227.06 L274.88,227.25 L274.95,227.44 L275.02,227.63 L275.09,227.82 L275.16,228.01 L275.23,228.20 L275.30,228.39 L275.38,228.58 L275.45,228.77 L275.52,228.96 L275.59,229.15 L275.66,229.34 L275.73,229.53 L275.80,229.72 L275.88,229.38 L275.95,228.23 L276.02,227.07 L276.09,225.91 L276.16,224.76 L276.23,223.99 L276.30,224.18 L276.38,224.36 L276.45,224.55 L276.52,224.74 L276.59,224.92 L276.66,225.11 L276.73,225.29 L276.80,225.48 L276.88,225.66 L276.95,225.85 L277.02,226.03 L277.09,226.22 L277.16,226.41 L277.23,226.59 L277.30,226.78 L277.37,226.96 L277.45,227.15 L277.52,227.34 L277.59,227.52 L277.66,227.71 L277.73,227.90 L277.80,228.08 L277.87,228.27 L277.95,228.46 L278.02,228.65 L278.09,228.83 L278.16,229.02 L278.23,229.21 L278.30,229.40 L278.37,229.58 L278.45,229.77 L278.52,229.96 L278.59,230.15 L278.66,230.34 L278.73,230.52 L278.80,230.71 L278.87,229.85 L278.95,228.95 L279.02,228.05 L279.09,227.15 L279.16,226.25 L279.23,225.66 L279.30,225.81 L279.37,225.96 L279.45,226.11 L279.52,226.26 L279.59,226.41 L279.66,226.56 L279.73,226.71 L279.80,226.86 L279.87,227.01 L279.95,227.17 L280.02,227.32 L280.09,227.47 L280.16,227.62 L280.23,227.77 L280.30,227.92 L280.37,228.07 L280.44,228.22 L280.52,228.37 L280.59,228.52 L280.66,228.68 L280.73,228.83 L280.80,228.98 L280.87,229.13 L280.94,229.28 L281.02,229.43 L281.09,229.59 L281.16,229.74 L281.23,229.89 L281.30,230.04 L281.37,230.19 L281.44,230.35 L281.52,230.50 L281.59,230.65 L281.66,230.80 L281.73,230.95 L281.80,231.10 L281.87,231.58 L281.94,230.35 L282.02,229.13 L282.09,227.90 L282.16,226.67 L282.23,225.86 L282.30,226.05 L282.37,226.24 L282.44,226.44 L282.52,226.63 L282.59,226.82 L282.66,227.02 L282.73,227.21 L282.80,227.40 L282.87,227.60 L282.94,227.79 L283.02,227.98 L283.09,228.18 L283.16,228.37 L283.23,228.56 L283.30,228.76 L283.37,228.95 L283.44,229.14 L283.52,229.34 L283.59,229.53 L283.66,229.73 L283.73,229.92 L283.80,230.12 L283.87,230.31 L283.94,230.51 L284.01,230.70 L284.09,230.90 L284.16,231.09 L284.23,231.29 L284.30,231.48 L284.37,231.68 L284.44,231.87 L284.51,232.07 L284.59,232.26 L284.66,232.46 L284.73,232.65 L284.80,232.85 L284.87,232.40 L284.94,231.23 L285.01,230.07 L285.09,228.90 L285.16,227.73 L285.23,226.96 L285.30,227.15 L285.37,227.33 L285.44,227.52 L285.51,227.70 L285.59,227.88 L285.66,228.07 L285.73,228.25 L285.80,228.44 L285.87,228.62 L285.94,228.81 L286.01,228.99 L286.09,229.18 L286.16,229.36 L286.23,229.55 L286.30,229.74 L286.37,229.92 L286.44,230.11 L286.51,230.29 L286.59,230.48 L286.66,230.66 L286.73,230.85 L286.80,231.03 L286.87,231.22 L286.94,231.40 L287.01,231.59 L287.09,231.78 L287.16,231.96 L287.23,232.15 L287.30,232.33 L287.37,232.52 L287.44,232.70 L287.51,232.89 L287.58,233.07 L287.66,233.26 L287.73,233.45 L287.80,233.63 L287.87,233.07 L287.94,232.03 L288.01,230.99 L288.08,229.95 L288.16,228.91 L288.23,228.23 L288.30,228.40 L288.37,228.57 L288.44,228.73 L288.51,228.90 L288.58,229.07 L288.66,229.24 L288.73,229.40 L288.80,229.57 L288.87,229.74 L288.94,229.91 L289.01,230.07 L289.08,230.24 L289.16,230.41 L289.23,230.58 L289.30,230.74 L289.37,230.91 L289.44,231.08 L289.51,231.25 L289.58,231.41 L289.66,231.58 L289.73,231.75 L289.80,231.92 L289.87,232.09 L289.94,232.26 L290.01,232.43 L290.08,232.60 L290.16,232.77 L290.23,232.94 L290.30,233.11 L290.37,233.28 L290.44,233.45 L290.51,233.62 L290.58,233.79 L290.66,233.96 L290.73,234.13 L290.80,234.30 L290.87,233.79 L290.94,232.88 L291.01,231.96 L291.08,231.05 L291.15,230.13 L291.23,229.53 L291.30,229.69 L291.37,229.84 L291.44,229.99 L291.51,230.14 L291.58,230.30 L291.65,230.45 L291.73,230.60 L291.80,230.75 L291.87,230.91 L291.94,231.06 L292.01,231.21 L292.08,231.37 L292.15,231.52 L292.23,231.67 L292.30,231.83 L292.37,231.98 L292.44,232.13 L292.51,232.28 L292.58,232.44 L292.65,232.59 L292.73,232.74 L292.80,232.90 L292.87,233.05 L292.94,233.20 L293.01,233.36 L293.08,233.51 L293.15,233.66 L293.23,233.82 L293.30,233.97 L293.37,234.12 L293.44,234.28 L293.51,234.43 L293.58,234.58 L293.65,234.73 L293.73,234.89 L293.80,235.04 L293.87,235.68 L293.94,234.38 L294.01,233.07 L294.08,231.77 L294.15,230.46 L294.23,229.60 L294.30,229.81 L294.37,230.02 L294.44,230.22 L294.51,230.43 L294.58,230.63 L294.65,230.84 L294.73,231.04 L294.80,231.25 L294.87,231.46 L294.94,231.66 L295.01,231.87 L295.08,232.08 L295.15,232.28 L295.22,232.49 L295.30,232.69 L295.37,232.90 L295.44,233.11 L295.51,233.31 L295.58,233.52 L295.65,233.72 L295.72,233.93 L295.80,234.14 L295.87,234.34 L295.94,234.55 L296.01,234.76 L296.08,234.96 L296.15,235.17 L296.22,235.38 L296.30,235.58 L296.37,235.79 L296.44,236.00 L296.51,236.20 L296.58,236.41 L296.65,236.62 L296.72,236.82 L296.80,237.03 L296.87,236.33 L296.94,235.20 L297.01,234.08 L297.08,232.95 L297.15,231.83 L297.22,231.09 L297.30,231.27 L297.37,231.45 L297.44,231.63 L297.51,231.81 L297.58,231.99 L297.65,232.17 L297.72,232.36 L297.80,232.54 L297.87,232.72 L297.94,232.90 L298.01,233.08 L298.08,233.26 L298.15,233.45 L298.22,233.63 L298.29,233.81 L298.37,233.99 L298.44,234.17 L298.51,234.35 L298.58,234.54 L298.65,234.72 L298.72,234.90 L298.79,235.08 L298.87,235.26 L298.94,235.45 L299.01,235.63 L299.08,235.81 L299.15,235.99 L299.22,236.17 L299.29,236.36 L299.37,236.54 L299.44,236.72 L299.51,236.90 L299.58,237.08 L299.65,237.27 L299.72,237.45 L299.79,237.63 L299.87,237.62 L299.94,236.38 L300.01,235.14 L300.08,233.88 L300.15,232.62 L300.22,231.79 L300.29,231.97 L300.37,232.16 L300.44,232.34 L300.51,232.53 L300.58,232.71 L300.65,232.89 L300.72,233.08 L300.79,233.26 L300.87,233.45 L300.94,233.63 L301.01,233.82 L301.08,234.00 L301.15,234.18 L301.22,234.37 L301.29,234.55 L301.37,234.74 L301.44,234.92 L301.51,235.11 L301.58,235.29 L301.65,235.48 L301.72,235.66 L301.79,235.85 L301.87,236.03 L301.94,236.22 L302.01,236.40 L302.08,236.59 L302.15,236.77 L302.22,236.95 L302.29,237.14 L302.36,237.32 L302.44,237.51 L302.51,237.69 L302.58,237.88 L302.65,238.06 L302.72,238.25 L302.79,238.43 L302.86,238.30 L302.94,236.96 L303.01,235.63 L303.08,234.29 L303.15,232.95 L303.22,232.07 L303.29,232.27 L303.36,232.46 L303.44,232.66 L303.51,232.85 L303.58,233.05 L303.65,233.24 L303.72,233.44 L303.79,233.63 L303.86,233.83 L303.94,234.02 L304.01,234.22 L304.08,234.41 L304.15,234.61 L304.22,234.80 L304.29,235.00 L304.36,235.19 L304.44,235.39 L304.51,235.58 L304.58,235.78 L304.65,235.97 L304.72,236.17 L304.79,236.36 L304.86,236.56 L304.94,236.75 L305.01,236.95 L305.08,237.15 L305.15,237.34 L305.22,237.54 L305.29,237.73 L305.36,237.93 L305.44,238.12 L305.51,238.32 L305.58,238.51 L305.65,238.71 L305.72,238.91 L305.79,239.10 L305.86,238.61 L305.93,237.35 L306.01,236.09 L306.08,234.83 L306.15,233.56 L306.22,232.73 L306.29,232.91 L306.36,233.10 L306.43,233.28 L306.51,233.47 L306.58,233.65 L306.65,233.84 L306.72,234.02 L306.79,234.21 L306.86,234.39 L306.93,234.58 L307.01,234.76 L307.08,234.95 L307.15,235.13 L307.22,235.32 L307.29,235.51 L307.36,235.69 L307.43,235.88 L307.51,236.06 L307.58,236.25 L307.65,236.43 L307.72,236.62 L307.79,236.80 L307.86,236.99 L307.93,237.17 L308.01,237.36 L308.08,237.54 L308.15,237.73 L308.22,237.91 L308.29,238.10 L308.36,238.29 L308.43,238.47 L308.51,238.66 L308.58,238.84 L308.65,239.03 L308.72,239.21 L308.79,239.40 L308.86,239.31 L308.93,237.95 L309.00,236.59 L309.08,235.22 L309.15,233.86 L309.22,232.96 L309.29,233.15 L309.36,233.35 L309.43,233.55 L309.50,233.75 L309.58,233.95 L309.65,234.15 L309.72,234.35 L309.79,234.55 L309.86,234.74 L309.93,234.94 L310.00,235.14 L310.08,235.34 L310.15,235.54 L310.22,235.74 L310.29,235.94 L310.36,236.14 L310.43,236.34 L310.50,236.53 L310.58,236.73 L310.65,236.93 L310.72,237.13 L310.79,237.33 L310.86,237.53 L310.93,237.73 L311.00,237.93 L311.08,238.13 L311.15,238.33 L311.22,238.53 L311.29,238.73 L311.36,238.93 L311.43,239.13 L311.50,239.32 L311.58,239.52 L311.65,239.72 L311.72,239.92 L311.79,240.12 L311.86,239.25 L311.93,238.14 L312.00,237.02 L312.08,235.90 L312.15,234.78 L312.22,234.04 L312.29,234.20 L312.36,234.37 L312.43,234.53 L312.50,234.70 L312.57,234.87 L312.65,235.03 L312.72,235.20 L312.79,235.36 L312.86,235.53 L312.93,235.69 L313.00,235.86 L313.07,236.02 L313.15,236.19 L313.22,236.36 L313.29,236.52 L313.36,236.69 L313.43,236.85 L313.50,237.02 L313.57,237.18 L313.65,237.35 L313.72,237.51 L313.79,237.68 L313.86,237.85 L313.93,238.01 L314.00,238.18 L314.07,238.34 L314.15,238.51 L314.22,238.68 L314.29,238.84 L314.36,239.01 L314.43,239.17 L314.50,239.34 L314.57,239.51 L314.65,239.67 L314.72,239.84 L314.79,240.00 L314.86,240.16 L314.93,238.84 L315.00,237.53 L315.07,236.21 L315.15,234.90 L315.22,234.03 L315.29,234.22 L315.36,234.41 L315.43,234.60 L315.50,234.79 L315.57,234.98 L315.65,235.17 L315.72,235.36 L315.79,235.55 L315.86,235.74 L315.93,235.93 L316.00,236.12 L316.07,236.31 L316.14,236.50 L316.22,236.69 L316.29,236.88 L316.36,237.07 L316.43,237.26 L316.50,237.45 L316.57,237.64 L316.64,237.83 L316.72,238.02 L316.79,238.21 L316.86,238.40 L316.93,238.59 L317.00,238.78 L317.07,238.97 L317.14,239.17 L317.22,239.36 L317.29,239.55 L317.36,239.74 L317.43,239.93 L317.50,240.12 L317.57,240.31 L317.64,240.50 L317.72,240.69 L317.79,240.88 L317.86,240.20 L317.93,239.05 L318.00,237.90 L318.07,236.74 L318.14,235.59 L318.22,234.83 L318.29,235.00 L318.36,235.17 L318.43,235.33 L318.50,235.50 L318.57,235.67 L318.64,235.84 L318.72,236.00 L318.79,236.17 L318.86,236.34 L318.93,236.51 L319.00,236.67 L319.07,236.84 L319.14,237.01 L319.22,237.18 L319.29,237.35 L319.36,237.51 L319.43,237.68 L319.50,237.85 L319.57,238.02 L319.64,238.18 L319.71,238.35 L319.79,238.52 L319.86,238.69 L319.93,238.86 L320.00,239.02 L320.07,239.19 L320.14,239.36 L320.21,239.53 L320.29,239.70 L320.36,239.86 L320.43,240.03 L320.50,240.20 L320.57,240.37 L320.64,240.54 L320.71,240.71 L320.79,240.87 L320.86,241.11 L320.93,239.72 L321.00,238.33 L321.07,236.95 L321.14,235.56 L321.21,234.64 L321.29,234.84 L321.36,235.04 L321.43,235.24 L321.50,235.44 L321.57,235.64 L321.64,235.84 L321.71,236.04 L321.79,236.24 L321.86,236.44 L321.93,236.64 L322.00,236.84 L322.07,237.04 L322.14,237.24 L322.21,237.44 L322.29,237.64 L322.36,237.84 L322.43,238.04 L322.50,238.24 L322.57,238.44 L322.64,238.64 L322.71,238.84 L322.79,239.04 L322.86,239.24 L322.93,239.44 L323.00,239.64 L323.07,239.84 L323.14,240.04 L323.21,240.24 L323.28,240.44 L323.36,240.64 L323.43,240.84 L323.50,241.04 L323.57,241.24 L323.64,241.44 L323.71,241.64 L323.78,241.84 L323.86,241.45 L323.93,240.09 L324.00,238.72 L324.07,237.36 L324.14,235.99 L324.21,235.09 L324.28,235.29 L324.36,235.48 L324.43,235.68 L324.50,235.88 L324.57,236.07 L324.64,236.27 L324.71,236.47 L324.78,236.66 L324.86,236.86 L324.93,237.06 L325.00,237.25 L325.07,237.45 L325.14,237.65 L325.21,237.84 L325.28,238.04 L325.36,238.24 L325.43,238.43 L325.50,238.63 L325.57,238.83 L325.64,239.03 L325.71,239.22 L325.78,239.42 L325.86,239.62 L325.93,239.81 L326.00,240.01 L326.07,240.21 L326.14,240.41 L326.21,240.60 L326.28,240.80 L326.36,241.00 L326.43,241.20 L326.50,241.39 L326.57,241.59 L326.64,241.79 L326.71,241.98 L326.78,242.18 L326.86,241.04 L326.93,240.04 L327.00,239.05 L327.07,238.05 L327.14,237.06 L327.21,236.40 L327.28,236.55 L327.35,236.69 L327.43,236.84 L327.50,236.99 L327.57,237.13 L327.64,237.28 L327.71,237.43 L327.78,237.57 L327.85,237.72 L327.93,237.86 L328.00,238.01 L328.07,238.16 L328.14,238.30 L328.21,238.45 L328.28,238.60 L328.35,238.74 L328.43,238.89 L328.50,239.04 L328.57,239.18 L328.64,239.33 L328.71,239.47 L328.78,239.62 L328.85,239.77 L328.93,239.91 L329.00,240.06 L329.07,240.21 L329.14,240.36 L329.21,240.50 L329.28,240.65 L329.35,240.80 L329.43,240.95 L329.50,241.10 L329.57,241.25 L329.64,241.40 L329.71,241.55 L329.78,241.69 L329.85,241.50 L329.93,240.49 L330.00,239.47 L330.07,238.46 L330.14,237.45 L330.21,236.78 L330.28,236.93 L330.35,237.08 L330.43,237.23 L330.50,237.38 L330.57,237.53 L330.64,237.68 L330.71,237.83 L330.78,237.98 L330.85,238.14 L330.92,238.29 L331.00,238.44 L331.07,238.59 L331.14,238.74 L331.21,238.89 L331.28,239.04 L331.35,239.20 L331.42,239.35 L331.50,239.50 L331.57,239.65 L331.64,239.80 L331.71,239.95 L331.78,240.10 L331.85,240.26 L331.92,240.41 L332.00,240.56 L332.07,240.71 L332.14,240.86 L332.21,241.01 L332.28,241.17 L332.35,241.32 L332.42,241.47 L332.50,241.62 L332.57,241.77 L332.64,241.92 L332.71,242.08 L332.78,242.23 L332.85,242.07 L332.92,241.02 L333.00,239.96 L333.07,238.91 L333.14,237.85 L333.21,237.15 L333.28,237.31 L333.35,237.47 L333.42,237.62 L333.50,237.78 L333.57,237.94 L333.64,238.09 L333.71,238.25 L333.78,238.41 L333.85,238.56 L333.92,238.72 L334.00,238.88 L334.07,239.04 L334.14,239.19 L334.21,239.35 L334.28,239.51 L334.35,239.66 L334.42,239.82 L334.49,239.98 L334.57,240.13 L334.64,240.29 L334.71,240.45 L334.78,240.61 L334.85,240.76 L334.92,240.92 L334.99,241.08 L335.07,241.24 L335.14,241.39 L335.21,241.55 L335.28,241.71 L335.35,241.86 L335.42,242.02 L335.49,242.18 L335.57,242.34 L335.64,242.49 L335.71,242.65 L335.78,242.81 L335.85,243.35 L335.92,241.93 L335.99,240.51 L336.07,239.09 L336.14,237.67 L336.21,236.73 L336.28,236.94 L336.35,237.14 L336.42,237.35 L336.49,237.56 L336.57,237.76 L336.64,237.97 L336.71,238.18 L336.78,238.38 L336.85,238.59 L336.92,238.80 L336.99,239.00 L337.07,239.21 L337.14,239.42 L337.21,239.62 L337.28,239.83 L337.35,240.04 L337.42,240.24 L337.49,240.45 L337.56,240.66 L337.64,240.86 L337.71,241.07 L337.78,241.28 L337.85,241.48 L337.92,241.69 L337.99,241.90 L338.06,242.11 L338.14,242.31 L338.21,242.52 L338.28,242.73 L338.35,242.93 L338.42,243.14 L338.49,243.35 L338.56,243.56 L338.64,243.76 L338.71,243.97 L338.78,244.18 L338.85,243.28 L338.92,242.11 L338.99,240.94 L339.06,239.78 L339.14,238.61 L339.21,237.84 L339.28,238.01 L339.35,238.18 L339.42,238.35 L339.49,238.52 L339.56,238.70 L339.64,238.87 L339.71,239.04 L339.78,239.21 L339.85,239.39 L339.92,239.56 L339.99,239.73 L340.06,239.90 L340.14,240.07 L340.21,240.25 L340.28,240.42 L340.35,240.59 L340.42,240.76 L340.49,240.94 L340.56,241.11 L340.64,241.28 L340.71,241.45 L340.78,241.63 L340.85,241.80 L340.92,241.97 L340.99,242.14 L341.06,242.32 L341.13,242.49 L341.21,242.66 L341.28,242.83 L341.35,243.01 L341.42,243.18 L341.49,243.35 L341.56,243.53 L341.63,243.70 L341.71,243.87 L341.78,244.04 L341.85,243.97 L341.92,242.70 L341.99,241.44 L342.06,240.18 L342.13,238.91 L342.21,238.08 L342.28,238.26 L342.35,238.45 L342.42,238.63 L342.49,238.82 L342.56,239.00 L342.63,239.19 L342.71,239.38 L342.78,239.56 L342.85,239.75 L342.92,239.93 L342.99,240.12 L343.06,240.30 L343.13,240.49 L343.21,240.67 L343.28,240.85 L343.35,241.03 L343.42,241.21 L343.49,241.39 L343.56,241.57 L343.63,241.75 L343.71,241.93 L343.78,242.11 L343.85,242.30 L343.92,242.48 L343.99,242.66 L344.06,242.84 L344.13,243.02 L344.21,243.20 L344.28,243.38 L344.35,243.56 L344.42,243.74 L344.49,243.92 L344.56,244.10 L344.63,244.28 L344.70,244.46 L344.78,244.64 L344.85,243.99 L344.92,242.88 L344.99,241.76 L345.06,240.65 L345.13,239.54 L345.20,238.80 L345.28,238.96 L345.35,239.12 L345.42,239.27 L345.49,239.43 L345.56,239.59 L345.63,239.75 L345.70,239.91 L345.78,240.07 L345.85,240.23 L345.92,240.39 L345.99,240.55 L346.06,240.71 L346.13,240.86 L346.20,241.02 L346.28,241.18 L346.35,241.34 L346.42,241.50 L346.49,241.66 L346.56,241.82 L346.63,241.98 L346.70,242.14 L346.78,242.30 L346.85,242.46 L346.92,242.62 L346.99,242.77 L347.06,242.93 L347.13,243.09 L347.20,243.25 L347.28,243.41 L347.35,243.57 L347.42,243.73 L347.49,243.89 L347.56,244.05 L347.63,244.21 L347.70,244.37 L347.78,244.53 L347.85,244.48 L347.92,243.26 L347.99,242.05 L348.06,240.83 L348.13,239.61 L348.20,238.80 L348.27,238.98 L348.35,239.15 L348.42,239.32 L348.49,239.50 L348.56,239.67 L348.63,239.84 L348.70,240.01 L348.77,240.19 L348.85,240.36 L348.92,240.53 L348.99,240.71 L349.06,240.88 L349.13,241.05 L349.20,241.23 L349.27,241.40 L349.35,241.57 L349.42,241.75 L349.49,241.92 L349.56,242.09 L349.63,242.27 L349.70,242.44 L349.77,242.61 L349.85,242.79 L349.92,242.96 L349.99,243.13 L350.06,243.31 L350.13,243.48 L350.20,243.65 L350.27,243.83 L350.35,244.00 L350.42,244.17 L350.49,244.35 L350.56,244.52 L350.63,244.70 L350.70,244.87 L350.77,245.04 L350.85,244.62 L350.92,243.46 L350.99,242.30 L351.06,241.14 L351.13,239.98 L351.20,239.21 L351.27,239.37 L351.35,239.54 L351.42,239.70 L351.49,239.87 L351.56,240.03 L351.63,240.20 L351.70,240.36 L351.77,240.53 L351.84,240.69 L351.92,240.86 L351.99,241.02 L352.06,241.19 L352.13,241.36 L352.20,241.52 L352.27,241.69 L352.34,241.85 L352.42,242.02 L352.49,242.18 L352.56,242.35 L352.63,242.52 L352.70,242.68 L352.77,242.85 L352.84,243.01 L352.92,243.18 L352.99,243.34 L353.06,243.51 L353.13,243.68 L353.20,243.84 L353.27,244.01 L353.34,244.17 L353.42,244.34 L353.49,244.51 L353.56,244.67 L353.63,244.84 L353.70,245.00 L353.77,245.17 L353.84,244.85 L353.92,243.70 L353.99,242.56 L354.06,241.41 L354.13,240.26 L354.20,239.50 L354.27,239.67 L354.34,239.83 L354.42,239.99 L354.49,240.16 L354.56,240.32 L354.63,240.48 L354.70,240.65 L354.77,240.81 L354.84,240.97 L354.92,241.14 L354.99,241.30 L355.06,241.46 L355.13,241.63 L355.20,241.79 L355.27,241.96 L355.34,242.12 L355.41,242.28 L355.49,242.45 L355.56,242.61 L355.63,242.77 L355.70,242.94 L355.77,243.10 L355.84,243.27 L355.91,243.43 L355.99,243.59 L356.06,243.76 L356.13,243.92 L356.20,244.09 L356.27,244.25 L356.34,244.41 L356.41,244.58 L356.49,244.74 L356.56,244.91 L356.63,245.07 L356.70,245.23 L356.77,245.40 L356.84,245.37 L356.91,244.11 L356.99,242.83 L357.06,241.56 L357.13,240.29" fill="none" stroke="#3a8cc6" stroke-width="1.0" stroke-linejoin="round" stroke-linecap="round" clip-path="url(#cBR)" />
<path d="M214.97,188.96 L215.04,188.98 L215.11,189.01 L215.19,189.03 L215.26,189.06 L215.33,189.09 L215.40,189.12 L215.47,189.15 L215.54,189.18 L215.61,189.21 L215.69,189.24 L215.76,189.27 L215.83,189.30 L215.90,189.34 L215.97,189.37 L216.04,189.40 L216.11,189.44 L216.19,189.48 L216.26,189.51 L216.33,189.55 L216.40,189.59 L216.47,189.63 L216.54,189.67 L216.61,189.71 L216.68,189.75 L216.76,189.79 L216.83,189.83 L216.90,189.87 L216.97,189.92 L217.04,189.96 L217.11,190.01 L217.18,190.05 L217.26,190.10 L217.33,190.02 L217.40,189.84 L217.47,189.66 L217.54,189.48 L217.61,189.29 L217.68,189.10 L217.76,189.13 L217.83,189.21 L217.90,189.34 L217.97,189.48 L218.04,189.63 L218.11,189.77 L218.18,189.91 L218.26,190.05 L218.33,190.19 L218.40,190.34 L218.47,190.48 L218.54,190.63 L218.61,190.77 L218.68,190.92 L218.76,191.07 L218.83,191.22 L218.90,191.37 L218.97,191.52 L219.04,191.67 L219.11,191.82 L219.18,191.97 L219.26,192.12 L219.33,192.28 L219.40,192.43 L219.47,192.59 L219.54,192.74 L219.61,192.90 L219.68,193.06 L219.75,193.21 L219.83,193.37 L219.90,193.53 L219.97,193.69 L220.04,193.85 L220.11,194.02 L220.18,194.18 L220.25,194.34 L220.33,194.50 L220.40,194.66 L220.47,194.82 L220.54,194.99 L220.61,195.15 L220.68,194.94 L220.75,194.80 L220.83,194.66 L220.90,194.54 L220.97,194.41 L221.04,194.33 L221.11,194.51 L221.18,194.68 L221.25,194.86 L221.33,195.04 L221.40,195.22 L221.47,195.39 L221.54,195.57 L221.61,195.75 L221.68,195.93 L221.75,196.11 L221.83,196.29 L221.90,196.47 L221.97,196.65 L222.04,196.83 L222.11,197.01 L222.18,197.20 L222.25,197.38 L222.33,197.56 L222.40,197.75 L222.47,197.93 L222.54,198.11 L222.61,198.30 L222.68,198.48 L222.75,198.64 L222.83,198.79 L222.90,198.94 L222.97,199.09 L223.04,199.24 L223.11,199.40 L223.18,199.55 L223.25,199.70 L223.33,199.85 L223.40,200.01 L223.47,200.16 L223.54,200.32 L223.61,200.47 L223.68,200.63 L223.75,200.78 L223.82,200.94 L223.90,201.09 L223.97,201.16 L224.04,200.87 L224.11,200.58 L224.18,200.29 L224.25,200.01 L224.32,199.77 L224.40,199.95 L224.47,200.13 L224.54,200.31 L224.61,200.48 L224.68,200.66 L224.75,200.84 L224.82,201.02 L224.90,201.20 L224.97,201.38 L225.04,201.57 L225.11,201.75 L225.18,201.93 L225.25,202.11 L225.32,202.30 L225.40,202.48 L225.47,202.66 L225.54,202.85 L225.61,203.04 L225.68,203.22 L225.75,203.41 L225.82,203.59 L225.90,203.78 L225.97,203.97 L226.04,204.16 L226.11,204.35 L226.18,204.54 L226.25,204.73 L226.32,204.92 L226.40,205.11 L226.47,205.30 L226.54,205.49 L226.61,205.69 L226.68,205.88 L226.75,206.07 L226.82,206.27 L226.90,206.46 L226.97,206.66 L227.04,206.85 L227.11,207.05 L227.18,206.85 L227.25,206.60 L227.32,206.35 L227.39,206.09 L227.47,205.83 L227.54,205.57 L227.61,205.66 L227.68,205.84 L227.75,206.01 L227.82,206.19 L227.89,206.37 L227.97,206.54 L228.04,206.72 L228.11,206.90 L228.18,207.07 L228.25,207.23 L228.32,207.38 L228.39,207.52 L228.47,207.67 L228.54,207.82 L228.61,207.97 L228.68,208.12 L228.75,208.27 L228.82,208.42 L228.89,208.57 L228.97,208.72 L229.04,208.88 L229.11,209.03 L229.18,209.18 L229.25,209.33 L229.32,209.49 L229.39,209.64 L229.47,209.79 L229.54,209.95 L229.61,210.10 L229.68,210.26 L229.75,210.41 L229.82,210.57 L229.89,210.73 L229.97,210.88 L230.04,211.04 L230.11,211.20 L230.18,211.36 L230.25,211.52 L230.32,211.68 L230.39,211.45 L230.47,211.14 L230.54,210.83 L230.61,210.52 L230.68,210.21 L230.75,210.02 L230.82,210.16 L230.89,210.31 L230.96,210.46 L231.04,210.61 L231.11,210.76 L231.18,210.91 L231.25,211.06 L231.32,211.21 L231.39,211.36 L231.46,211.51 L231.54,211.66 L231.61,211.81 L231.68,211.96 L231.75,212.12 L231.82,212.27 L231.89,212.42 L231.96,212.57 L232.04,212.73 L232.11,212.88 L232.18,213.04 L232.25,213.19 L232.32,213.35 L232.39,213.50 L232.46,213.66 L232.54,213.81 L232.61,213.97 L232.68,214.13 L232.75,214.28 L232.82,214.44 L232.89,214.60 L232.96,214.76 L233.04,214.92 L233.11,215.08 L233.18,215.24 L233.25,215.40 L233.32,215.56 L233.39,215.72 L233.46,215.88 L233.54,215.97 L233.61,215.48 L233.68,215.00 L233.75,214.51 L233.82,214.01 L233.89,213.74 L233.96,213.91 L234.03,214.08 L234.11,214.26 L234.18,214.43 L234.25,214.60 L234.32,214.77 L234.39,214.91 L234.46,215.05 L234.53,215.19 L234.61,215.34 L234.68,215.48 L234.75,215.63 L234.82,215.77 L234.89,215.92 L234.96,216.06 L235.03,216.21 L235.11,216.36 L235.18,216.50 L235.25,216.65 L235.32,216.80 L235.39,216.95 L235.46,217.10 L235.53,217.25 L235.61,217.40 L235.68,217.55 L235.75,217.70 L235.82,217.85 L235.89,218.00 L235.96,218.15 L236.03,218.31 L236.11,218.46 L236.18,218.61 L236.25,218.77 L236.32,218.92 L236.39,219.08 L236.46,219.23 L236.53,219.39 L236.61,219.54 L236.68,218.76 L236.75,218.31 L236.82,217.86 L236.89,217.41 L236.96,216.95 L237.03,216.93 L237.11,217.06 L237.18,217.19 L237.25,217.32 L237.32,217.45 L237.39,217.58 L237.46,217.72 L237.53,217.85 L237.60,217.98 L237.68,218.12 L237.75,218.25 L237.82,218.39 L237.89,218.52 L237.96,218.66 L238.03,218.79 L238.10,218.93 L238.18,219.06 L238.25,219.20 L238.32,219.34 L238.39,219.48 L238.46,219.61 L238.53,219.75 L238.60,219.89 L238.68,220.03 L238.75,220.17 L238.82,220.31 L238.89,220.45 L238.96,220.59 L239.03,220.73 L239.10,220.87 L239.18,221.01 L239.25,221.15 L239.32,221.30 L239.39,221.44 L239.46,221.58 L239.53,221.72 L239.60,221.87 L239.68,222.01 L239.75,221.85 L239.82,221.30 L239.89,220.75 L239.96,220.19 L240.03,219.63 L240.10,219.37 L240.18,219.52 L240.25,219.66 L240.32,219.81 L240.39,219.95 L240.46,220.10 L240.53,220.24 L240.60,220.36 L240.68,220.48 L240.75,220.60 L240.82,220.73 L240.89,220.85 L240.96,220.98 L241.03,221.10 L241.10,221.23 L241.18,221.35 L241.25,221.48 L241.32,221.61 L241.39,221.73 L241.46,221.86 L241.53,221.99 L241.60,222.12 L241.67,222.24 L241.75,222.37 L241.82,222.50 L241.89,222.63 L241.96,222.76 L242.03,222.89 L242.10,223.02 L242.17,223.16 L242.25,223.29 L242.32,223.42 L242.39,223.55 L242.46,223.68 L242.53,223.82 L242.60,223.95 L242.67,224.09 L242.75,224.22 L242.82,224.03 L242.89,223.33 L242.96,222.62 L243.03,221.91 L243.10,221.19 L243.17,220.86 L243.25,221.00 L243.32,221.14 L243.39,221.28 L243.46,221.42 L243.53,221.56 L243.60,221.70 L243.67,221.84 L243.75,221.98 L243.82,222.12 L243.89,222.26 L243.96,222.40 L244.03,222.54 L244.10,222.69 L244.17,222.83 L244.25,222.97 L244.32,223.11 L244.39,223.25 L244.46,223.40 L244.53,223.54 L244.60,223.68 L244.67,223.82 L244.75,223.97 L244.82,224.11 L244.89,224.25 L244.96,224.40 L245.03,224.54 L245.10,224.68 L245.17,224.83 L245.24,224.97 L245.32,225.11 L245.39,225.26 L245.46,225.40 L245.53,225.55 L245.60,225.69 L245.67,225.83 L245.74,225.98 L245.82,226.12 L245.89,225.62 L245.96,224.82 L246.03,224.02 L246.10,223.22 L246.17,222.42 L246.24,222.34 L246.32,222.49 L246.39,222.64 L246.46,222.80 L246.53,222.95 L246.60,223.10 L246.67,223.25 L246.74,223.41 L246.82,223.56 L246.89,223.71 L246.96,223.87 L247.03,224.02 L247.10,224.17 L247.17,224.33 L247.24,224.48 L247.32,224.64 L247.39,224.79 L247.46,224.94 L247.53,225.10 L247.60,225.25 L247.67,225.41 L247.74,225.56 L247.82,225.72 L247.89,225.87 L247.96,226.03 L248.03,226.19 L248.10,226.34 L248.17,226.50 L248.24,226.65 L248.31,226.81 L248.39,226.97 L248.46,227.12 L248.53,227.28 L248.60,227.44 L248.67,227.59 L248.74,227.75 L248.81,227.91 L248.89,227.31 L248.96,226.63 L249.03,225.96 L249.10,225.28 L249.17,224.61 L249.24,224.24 L249.31,224.37 L249.39,224.51 L249.46,224.64 L249.53,224.78 L249.60,224.92 L249.67,225.05 L249.74,225.19 L249.81,225.32 L249.89,225.46 L249.96,225.60 L250.03,225.73 L250.10,225.87 L250.17,226.01 L250.24,226.14 L250.31,226.28 L250.39,226.42 L250.46,226.55 L250.53,226.69 L250.60,226.83 L250.67,226.97 L250.74,227.10 L250.81,227.22 L250.89,227.35 L250.96,227.47 L251.03,227.60 L251.10,227.73 L251.17,227.85 L251.24,227.98 L251.31,228.11 L251.39,228.23 L251.46,228.36 L251.53,228.49 L251.60,228.62 L251.67,228.74 L251.74,228.87 L251.81,229.00 L251.88,228.76 L251.96,228.09 L252.03,227.42 L252.10,226.75 L252.17,226.08 L252.24,225.64 L252.31,225.77 L252.38,225.89 L252.46,226.01 L252.53,226.13 L252.60,226.25 L252.67,226.37 L252.74,226.49 L252.81,226.61 L252.88,226.74 L252.96,226.86 L253.03,226.98 L253.10,227.10 L253.17,227.22 L253.24,227.35 L253.31,227.47 L253.38,227.59 L253.46,227.71 L253.53,227.84 L253.60,227.96 L253.67,228.08 L253.74,228.20 L253.81,228.33 L253.88,228.45 L253.96,228.57 L254.03,228.70 L254.10,228.82 L254.17,228.94 L254.24,229.07 L254.31,229.19 L254.38,229.31 L254.46,229.44 L254.53,229.56 L254.60,229.69 L254.67,229.81 L254.74,229.94 L254.81,230.06 L254.88,230.54 L254.96,229.57 L255.03,228.60 L255.10,227.62 L255.17,226.65 L255.24,226.01 L255.31,226.17 L255.38,226.33 L255.45,226.49 L255.53,226.66 L255.60,226.82 L255.67,226.98 L255.74,227.14 L255.81,227.31 L255.88,227.47 L255.95,227.63 L256.03,227.80 L256.10,227.96 L256.17,228.12 L256.24,228.29 L256.31,228.45 L256.38,228.62 L256.45,228.78 L256.53,228.95 L256.60,229.11 L256.67,229.27 L256.74,229.44 L256.81,229.60 L256.88,229.77 L256.95,229.93 L257.03,230.10 L257.10,230.27 L257.17,230.43 L257.24,230.60 L257.31,230.76 L257.38,230.93 L257.45,231.10 L257.53,231.26 L257.60,231.43 L257.67,231.60 L257.74,231.76 L257.81,231.93 L257.88,231.28 L257.95,230.48 L258.03,229.68 L258.10,228.88 L258.17,228.08 L258.24,227.56 L258.31,227.70 L258.38,227.84 L258.45,227.98 L258.53,228.11 L258.60,228.25 L258.67,228.39 L258.74,228.53 L258.81,228.67 L258.88,228.81 L258.95,228.95 L259.02,229.09 L259.10,229.23 L259.17,229.37 L259.24,229.51 L259.31,229.65 L259.38,229.79 L259.45,229.93 L259.52,230.07 L259.60,230.21 L259.67,230.35 L259.74,230.49 L259.81,230.63 L259.88,230.77 L259.95,230.91 L260.02,231.05 L260.10,231.19 L260.17,231.33 L260.24,231.48 L260.31,231.62 L260.38,231.76 L260.45,231.90 L260.52,232.04 L260.60,232.18 L260.67,232.33 L260.74,232.47 L260.81,232.61 L260.88,232.95 L260.95,231.89 L261.02,230.84 L261.10,229.78 L261.17,228.72 L261.24,228.02 L261.31,228.19 L261.38,228.36 L261.45,228.52 L261.52,228.69 L261.60,228.86 L261.67,229.02 L261.74,229.19 L261.81,229.36 L261.88,229.53 L261.95,229.70 L262.02,229.86 L262.10,230.03 L262.17,230.20 L262.24,230.37 L262.31,230.54 L262.38,230.71 L262.45,230.88 L262.52,231.05 L262.60,231.21 L262.67,231.38 L262.74,231.55 L262.81,231.72 L262.88,231.89 L262.95,232.06 L263.02,232.23 L263.09,232.40 L263.17,232.58 L263.24,232.75 L263.31,232.92 L263.38,233.09 L263.45,233.26 L263.52,233.43 L263.59,233.60 L263.67,233.77 L263.74,233.95 L263.81,234.12 L263.88,233.82 L263.95,232.77 L264.02,231.71 L264.09,230.65 L264.17,229.59 L264.24,228.90 L264.31,229.06 L264.38,229.23 L264.45,229.40 L264.52,229.56 L264.59,229.73 L264.67,229.90 L264.74,230.07 L264.81,230.23 L264.88,230.40 L264.95,230.57 L265.02,230.74 L265.09,230.91 L265.17,231.07 L265.24,231.24 L265.31,231.41 L265.38,231.58 L265.45,231.75 L265.52,231.92 L265.59,232.09 L265.67,232.26 L265.74,232.43 L265.81,232.60 L265.88,232.77 L265.95,232.94 L266.02,233.11 L266.09,233.28 L266.17,233.45 L266.24,233.62 L266.31,233.79 L266.38,233.96 L266.45,234.13 L266.52,234.30 L266.59,234.47 L266.66,234.65 L266.74,234.82 L266.81,234.99 L266.88,234.31 L266.95,233.43 L267.02,232.55 L267.09,231.67 L267.16,230.78 L267.24,230.20 L267.31,230.35 L267.38,230.49 L267.45,230.63 L267.52,230.78 L267.59,230.92 L267.66,231.06 L267.74,231.21 L267.81,231.35 L267.88,231.49 L267.95,231.64 L268.02,231.78 L268.09,231.93 L268.16,232.07 L268.24,232.22 L268.31,232.36 L268.38,232.51 L268.45,232.65 L268.52,232.80 L268.59,232.94 L268.66,233.09 L268.74,233.23 L268.81,233.38 L268.88,233.52 L268.95,233.67 L269.02,233.82 L269.09,233.96 L269.16,234.11 L269.24,234.25 L269.31,234.40 L269.38,234.55 L269.45,234.69 L269.52,234.84 L269.59,234.99 L269.66,235.14 L269.74,235.28 L269.81,235.43 L269.88,235.30 L269.95,234.37 L270.02,233.43 L270.09,232.50 L270.16,231.57 L270.23,230.95 L270.31,231.10 L270.38,231.25 L270.45,231.40 L270.52,231.55 L270.59,231.70 L270.66,231.85 L270.73,232.00 L270.81,232.15 L270.88,232.30 L270.95,232.46 L271.02,232.61 L271.09,232.76 L271.16,232.91 L271.23,233.06 L271.31,233.21 L271.38,233.36 L271.45,233.52 L271.52,233.67 L271.59,233.82 L271.66,233.97 L271.73,234.12 L271.81,234.27 L271.88,234.43 L271.95,234.58 L272.02,234.73 L272.09,234.88 L272.16,235.04 L272.23,235.19 L272.31,235.34 L272.38,235.50 L272.45,235.65 L272.52,235.80 L272.59,235.96 L272.66,236.11 L272.73,236.26 L272.81,236.42 L272.88,236.25 L272.95,235.28 L273.02,234.30 L273.09,233.32 L273.16,232.35 L273.23,231.70 L273.31,231.86 L273.38,232.01 L273.45,232.17 L273.52,232.33 L273.59,232.48 L273.66,232.64 L273.73,232.79 L273.80,232.95 L273.88,233.11 L273.95,233.26 L274.02,233.42 L274.09,233.58 L274.16,233.73 L274.23,233.89 L274.30,234.05 L274.38,234.20 L274.45,234.36 L274.52,234.52 L274.59,234.68 L274.66,234.83 L274.73,234.99 L274.80,235.15 L274.88,235.31 L274.95,235.47 L275.02,235.62 L275.09,235.78 L275.16,235.94 L275.23,236.10 L275.30,236.26 L275.38,236.42 L275.45,236.58 L275.52,236.74 L275.59,236.90 L275.66,237.05 L275.73,237.21 L275.80,237.37 L275.88,237.26 L275.95,236.21 L276.02,235.17 L276.09,234.12 L276.16,233.07 L276.23,232.38 L276.30,232.55 L276.38,232.71 L276.45,232.88 L276.52,233.04 L276.59,233.21 L276.66,233.37 L276.73,233.54 L276.80,233.71 L276.88,233.87 L276.95,234.04 L277.02,234.20 L277.09,234.37 L277.16,234.54 L277.23,234.70 L277.30,234.87 L277.37,235.04 L277.45,235.20 L277.52,235.37 L277.59,235.54 L277.66,235.70 L277.73,235.87 L277.80,236.04 L277.87,236.21 L277.95,236.37 L278.02,236.54 L278.09,236.71 L278.16,236.88 L278.23,237.05 L278.30,237.21 L278.37,237.38 L278.45,237.55 L278.52,237.72 L278.59,237.89 L278.66,238.06 L278.73,238.23 L278.80,238.40 L278.87,238.11 L278.95,237.07 L279.02,236.02 L279.09,234.97 L279.16,233.92 L279.23,233.23 L279.30,233.40 L279.37,233.56 L279.45,233.73 L279.52,233.89 L279.59,234.06 L279.66,234.23 L279.73,234.39 L279.80,234.56 L279.87,234.72 L279.95,234.89 L280.02,235.05 L280.09,235.22 L280.16,235.39 L280.23,235.55 L280.30,235.72 L280.37,235.89 L280.44,236.05 L280.52,236.22 L280.59,236.39 L280.66,236.56 L280.73,236.72 L280.80,236.89 L280.87,237.06 L280.94,237.23 L281.02,237.39 L281.09,237.56 L281.16,237.73 L281.23,237.90 L281.30,238.07 L281.37,238.24 L281.44,238.40 L281.52,238.57 L281.59,238.73 L281.66,238.89 L281.73,239.06 L281.80,239.22 L281.87,238.94 L281.94,237.88 L282.02,236.83 L282.09,235.77 L282.16,234.71 L282.23,234.01 L282.30,234.17 L282.37,234.33 L282.44,234.49 L282.52,234.65 L282.59,234.81 L282.66,234.97 L282.73,235.13 L282.80,235.29 L282.87,235.46 L282.94,235.62 L283.02,235.78 L283.09,235.94 L283.16,236.10 L283.23,236.26 L283.30,236.42 L283.37,236.59 L283.44,236.75 L283.52,236.91 L283.59,237.07 L283.66,237.24 L283.73,237.40 L283.80,237.56 L283.87,237.72 L283.94,237.89 L284.01,238.05 L284.09,238.21 L284.16,238.38 L284.23,238.54 L284.30,238.70 L284.37,238.87 L284.44,239.03 L284.51,239.20 L284.59,239.36 L284.66,239.52 L284.73,239.69 L284.80,239.85 L284.87,239.66 L284.94,238.56 L285.01,237.46 L285.09,236.35 L285.16,235.25 L285.23,234.52 L285.30,234.69 L285.37,234.85 L285.44,235.02 L285.51,235.18 L285.59,235.35 L285.66,235.52 L285.73,235.69 L285.80,235.85 L285.87,236.02 L285.94,236.19 L286.01,236.36 L286.09,236.52 L286.16,236.69 L286.23,236.86 L286.30,237.03 L286.37,237.20 L286.44,237.36 L286.51,237.53 L286.59,237.70 L286.66,237.87 L286.73,238.04 L286.80,238.20 L286.87,238.37 L286.94,238.54 L287.01,238.71 L287.09,238.88 L287.16,239.05 L287.23,239.22 L287.30,239.38 L287.37,239.55 L287.44,239.72 L287.51,239.89 L287.58,240.06 L287.66,240.23 L287.73,240.40 L287.80,240.57 L287.87,240.61 L287.94,239.36 L288.01,238.10 L288.08,236.85 L288.16,235.60 L288.23,234.77 L288.30,234.96 L288.37,235.15 L288.44,235.34 L288.51,235.52 L288.58,235.71 L288.66,235.90 L288.73,236.09 L288.80,236.27 L288.87,236.46 L288.94,236.65 L289.01,236.84 L289.08,237.02 L289.16,237.21 L289.23,237.40 L289.30,237.59 L289.37,237.77 L289.44,237.96 L289.51,238.15 L289.58,238.34 L289.66,238.53 L289.73,238.72 L289.80,238.91 L289.87,239.10 L289.94,239.29 L290.01,239.48 L290.08,239.67 L290.16,239.86 L290.23,240.05 L290.30,240.24 L290.37,240.43 L290.44,240.62 L290.51,240.81 L290.58,241.00 L290.66,241.19 L290.73,241.38 L290.80,241.57 L290.87,240.86 L290.94,239.80 L291.01,238.73 L291.08,237.66 L291.15,236.59 L291.23,235.88 L291.30,236.05 L291.37,236.21 L291.44,236.37 L291.51,236.54 L291.58,236.70 L291.65,236.87 L291.73,237.03 L291.80,237.20 L291.87,237.36 L291.94,237.53 L292.01,237.69 L292.08,237.86 L292.15,238.02 L292.23,238.18 L292.30,238.35 L292.37,238.51 L292.44,238.68 L292.51,238.84 L292.58,239.01 L292.65,239.17 L292.73,239.34 L292.80,239.50 L292.87,239.67 L292.94,239.84 L293.01,240.00 L293.08,240.17 L293.15,240.33 L293.23,240.50 L293.30,240.66 L293.37,240.83 L293.44,240.99 L293.51,241.16 L293.58,241.32 L293.65,241.49 L293.73,241.66 L293.80,241.82 L293.87,241.50 L293.94,240.46 L294.01,239.41 L294.08,238.37 L294.15,237.33 L294.23,236.64 L294.30,236.80 L294.37,236.96 L294.44,237.12 L294.51,237.28 L294.58,237.44 L294.65,237.60 L294.73,237.76 L294.80,237.93 L294.87,238.09 L294.94,238.25 L295.01,238.41 L295.08,238.57 L295.15,238.73 L295.22,238.89 L295.30,239.05 L295.37,239.21 L295.44,239.38 L295.51,239.54 L295.58,239.70 L295.65,239.86 L295.72,240.02 L295.80,240.18 L295.87,240.34 L295.94,240.51 L296.01,240.67 L296.08,240.83 L296.15,240.99 L296.22,241.15 L296.30,241.32 L296.37,241.48 L296.44,241.64 L296.51,241.80 L296.58,241.96 L296.65,242.13 L296.72,242.29 L296.80,242.45 L296.87,242.48 L296.94,241.31 L297.01,240.13 L297.08,238.95 L297.15,237.78 L297.22,237.00 L297.30,237.18 L297.37,237.36 L297.44,237.54 L297.51,237.72 L297.58,237.89 L297.65,238.07 L297.72,238.25 L297.80,238.43 L297.87,238.61 L297.94,238.79 L298.01,238.97 L298.08,239.15 L298.15,239.33 L298.22,239.51 L298.29,239.69 L298.37,239.87 L298.44,240.05 L298.51,240.23 L298.58,240.41 L298.65,240.59 L298.72,240.76 L298.79,240.94 L298.87,241.12 L298.94,241.30 L299.01,241.48 L299.08,241.66 L299.15,241.84 L299.22,242.02 L299.29,242.20 L299.37,242.38 L299.44,242.57 L299.51,242.75 L299.58,242.93 L299.65,243.11 L299.72,243.29 L299.79,243.47 L299.87,242.73 L299.94,241.75 L300.01,240.78 L300.08,239.81 L300.15,238.84 L300.22,238.19 L300.29,238.34 L300.37,238.49 L300.44,238.64 L300.51,238.79 L300.58,238.93 L300.65,239.08 L300.72,239.23 L300.79,239.38 L300.87,239.53 L300.94,239.68 L301.01,239.82 L301.08,239.97 L301.15,240.12 L301.22,240.27 L301.29,240.42 L301.37,240.57 L301.44,240.72 L301.51,240.86 L301.58,241.01 L301.65,241.16 L301.72,241.31 L301.79,241.46 L301.87,241.61 L301.94,241.76 L302.01,241.91 L302.08,242.06 L302.15,242.20 L302.22,242.35 L302.29,242.50 L302.36,242.65 L302.44,242.80 L302.51,242.95 L302.58,243.10 L302.65,243.25 L302.72,243.40 L302.79,243.55 L302.86,243.38 L302.94,242.37 L303.01,241.37 L303.08,240.36 L303.15,239.35 L303.22,238.68 L303.29,238.84 L303.36,238.99 L303.44,239.14 L303.51,239.30 L303.58,239.45 L303.65,239.60 L303.72,239.75 L303.79,239.91 L303.86,240.06 L303.94,240.21 L304.01,240.37 L304.08,240.52 L304.15,240.67 L304.22,240.83 L304.29,240.98 L304.36,241.13 L304.44,241.29 L304.51,241.44 L304.58,241.59 L304.65,241.75 L304.72,241.90 L304.79,242.05 L304.86,242.21 L304.94,242.36 L305.01,242.51 L305.08,242.67 L305.15,242.82 L305.22,242.98 L305.29,243.13 L305.36,243.28 L305.44,243.44 L305.51,243.59 L305.58,243.75 L305.65,243.90 L305.72,244.05 L305.79,244.21 L305.86,244.63 L305.93,243.31 L306.01,242.00 L306.08,240.68 L306.15,239.37 L306.22,238.50 L306.29,238.69 L306.36,238.89 L306.43,239.08 L306.51,239.27 L306.58,239.47 L306.65,239.66 L306.72,239.86 L306.79,240.05 L306.86,240.25 L306.93,240.44 L307.01,240.64 L307.08,240.84 L307.15,241.03 L307.22,241.23 L307.29,241.42 L307.36,241.62 L307.43,241.81 L307.51,242.01 L307.58,242.20 L307.65,242.40 L307.72,242.59 L307.79,242.79 L307.86,242.99 L307.93,243.18 L308.01,243.38 L308.08,243.57 L308.15,243.77 L308.22,243.97 L308.29,244.16 L308.36,244.36 L308.43,244.55 L308.51,244.75 L308.58,244.95 L308.65,245.14 L308.72,245.34 L308.79,245.54 L308.86,244.78 L308.93,243.66 L309.00,242.54 L309.08,241.42 L309.15,240.30 L309.22,239.56 L309.29,239.73 L309.36,239.90 L309.43,240.06 L309.50,240.23 L309.58,240.40 L309.65,240.57 L309.72,240.74 L309.79,240.90 L309.86,241.07 L309.93,241.24 L310.00,241.41 L310.08,241.58 L310.15,241.75 L310.22,241.91 L310.29,242.08 L310.36,242.25 L310.43,242.42 L310.50,242.59 L310.58,242.76 L310.65,242.93 L310.72,243.09 L310.79,243.26 L310.86,243.43 L310.93,243.60 L311.00,243.77 L311.08,243.94 L311.15,244.11 L311.22,244.28 L311.29,244.45 L311.36,244.62 L311.43,244.78 L311.50,244.95 L311.58,245.12 L311.65,245.29 L311.72,245.46 L311.79,245.63 L311.86,245.39 L311.93,244.26 L312.00,243.12 L312.08,241.98 L312.15,240.84 L312.22,240.09 L312.29,240.26 L312.36,240.43 L312.43,240.60 L312.50,240.77 L312.57,240.94 L312.65,241.11 L312.72,241.28 L312.79,241.45 L312.86,241.63 L312.93,241.80 L313.00,241.97 L313.07,242.14 L313.15,242.31 L313.22,242.48 L313.29,242.65 L313.36,242.82 L313.43,242.99 L313.50,243.16 L313.57,243.34 L313.65,243.51 L313.72,243.68 L313.79,243.85 L313.86,244.02 L313.93,244.19 L314.00,244.36 L314.07,244.54 L314.15,244.71 L314.22,244.88 L314.29,245.05 L314.36,245.22 L314.43,245.39 L314.50,245.57 L314.57,245.74 L314.65,245.91 L314.72,246.08 L314.79,246.25 L314.86,245.45 L314.93,244.55 L315.00,243.65 L315.07,242.75 L315.15,241.85 L315.22,241.25 L315.29,241.39 L315.36,241.52 L315.43,241.66 L315.50,241.79 L315.57,241.93 L315.65,242.06 L315.72,242.20 L315.79,242.34 L315.86,242.47 L315.93,242.61 L316.00,242.74 L316.07,242.88 L316.14,243.02 L316.22,243.15 L316.29,243.29 L316.36,243.42 L316.43,243.56 L316.50,243.70 L316.57,243.83 L316.64,243.97 L316.72,244.11 L316.79,244.24 L316.86,244.38 L316.93,244.52 L317.00,244.65 L317.07,244.79 L317.14,244.92 L317.22,245.06 L317.29,245.20 L317.36,245.33 L317.43,245.47 L317.50,245.61 L317.57,245.75 L317.64,245.88 L317.72,246.02 L317.79,246.16 L317.86,246.35 L317.93,245.25 L318.00,244.16 L318.07,243.07 L318.14,241.97 L318.22,241.25 L318.29,241.41 L318.36,241.57 L318.43,241.73 L318.50,241.90 L318.57,242.06 L318.64,242.22 L318.72,242.38 L318.79,242.54 L318.86,242.71 L318.93,242.87 L319.00,243.03 L319.07,243.19 L319.14,243.35 L319.22,243.52 L319.29,243.68 L319.36,243.84 L319.43,244.00 L319.50,244.16 L319.57,244.33 L319.64,244.49 L319.71,244.65 L319.79,244.81 L319.86,244.98 L319.93,245.14 L320.00,245.30 L320.07,245.46 L320.14,245.63 L320.21,245.79 L320.29,245.95 L320.36,246.11 L320.43,246.28 L320.50,246.44 L320.57,246.60 L320.64,246.76 L320.71,246.93 L320.79,247.09 L320.86,247.00 L320.93,245.82 L321.00,244.65 L321.07,243.47 L321.14,242.30 L321.21,241.52 L321.29,241.69 L321.36,241.86 L321.43,242.04 L321.50,242.21 L321.57,242.38 L321.64,242.55 L321.71,242.73 L321.79,242.90 L321.86,243.07 L321.93,243.25 L322.00,243.42 L322.07,243.59 L322.14,243.77 L322.21,243.94 L322.29,244.11 L322.36,244.29 L322.43,244.46 L322.50,244.63 L322.57,244.81 L322.64,244.98 L322.71,245.15 L322.79,245.33 L322.86,245.50 L322.93,245.67 L323.00,245.85 L323.07,246.02 L323.14,246.20 L323.21,246.37 L323.28,246.54 L323.36,246.72 L323.43,246.89 L323.50,247.07 L323.57,247.24 L323.64,247.41 L323.71,247.59 L323.78,247.76 L323.86,246.92 L323.93,245.99 L324.00,245.07 L324.07,244.15 L324.14,243.22 L324.21,242.61 L324.28,242.75 L324.36,242.89 L324.43,243.03 L324.50,243.17 L324.57,243.31 L324.64,243.45 L324.71,243.58 L324.78,243.72 L324.86,243.86 L324.93,244.00 L325.00,244.14 L325.07,244.28 L325.14,244.42 L325.21,244.55 L325.28,244.69 L325.36,244.83 L325.43,244.97 L325.50,245.11 L325.57,245.25 L325.64,245.39 L325.71,245.53 L325.78,245.67 L325.86,245.81 L325.93,245.95 L326.00,246.08 L326.07,246.22 L326.14,246.36 L326.21,246.50 L326.28,246.64 L326.36,246.78 L326.43,246.92 L326.50,247.06 L326.57,247.20 L326.64,247.34 L326.71,247.48 L326.78,247.62 L326.86,248.00 L326.93,246.80 L327.00,245.59 L327.07,244.39 L327.14,243.18 L327.21,242.38 L327.28,242.56 L327.35,242.74 L327.43,242.92 L327.50,243.09 L327.57,243.27 L327.64,243.45 L327.71,243.62 L327.78,243.80 L327.85,243.98 L327.93,244.15 L328.00,244.33 L328.07,244.51 L328.14,244.69 L328.21,244.86 L328.28,245.04 L328.35,245.22 L328.43,245.40 L328.50,245.57 L328.57,245.75 L328.64,245.93 L328.71,246.11 L328.78,246.29 L328.85,246.46 L328.93,246.64 L329.00,246.82 L329.07,247.00 L329.14,247.17 L329.21,247.35 L329.28,247.52 L329.35,247.70 L329.43,247.87 L329.50,248.05 L329.57,248.22 L329.64,248.40 L329.71,248.57 L329.78,248.74 L329.85,248.47 L329.93,247.25 L330.00,246.02 L330.07,244.80 L330.14,243.57 L330.21,242.76 L330.28,242.94 L330.35,243.11 L330.43,243.29 L330.50,243.46 L330.57,243.64 L330.64,243.82 L330.71,243.99 L330.78,244.17 L330.85,244.34 L330.92,244.52 L331.00,244.69 L331.07,244.87 L331.14,245.04 L331.21,245.22 L331.28,245.40 L331.35,245.57 L331.42,245.75 L331.50,245.92 L331.57,246.10 L331.64,246.28 L331.71,246.45 L331.78,246.63 L331.85,246.80 L331.92,246.98 L332.00,247.16 L332.07,247.33 L332.14,247.51 L332.21,247.69 L332.28,247.86 L332.35,248.04 L332.42,248.22 L332.50,248.39 L332.57,248.57 L332.64,248.75 L332.71,248.92 L332.78,249.10 L332.85,248.22 L332.92,247.25 L333.00,246.29 L333.07,245.33 L333.14,244.37 L333.21,243.73 L333.28,243.87 L333.35,244.01 L333.42,244.15 L333.50,244.29 L333.57,244.43 L333.64,244.57 L333.71,244.71 L333.78,244.85 L333.85,244.99 L333.92,245.13 L334.00,245.27 L334.07,245.41 L334.14,245.55 L334.21,245.69 L334.28,245.83 L334.35,245.97 L334.42,246.11 L334.49,246.25 L334.57,246.39 L334.64,246.53 L334.71,246.67 L334.78,246.81 L334.85,246.95 L334.92,247.09 L334.99,247.23 L335.07,247.37 L335.14,247.51 L335.21,247.65 L335.28,247.79 L335.35,247.93 L335.42,248.07 L335.49,248.22 L335.57,248.36 L335.64,248.50 L335.71,248.64 L335.78,248.78 L335.85,249.13 L335.92,247.90 L335.99,246.66 L336.07,245.43 L336.14,244.19 L336.21,243.37 L336.28,243.55 L336.35,243.73 L336.42,243.90 L336.49,244.08 L336.57,244.26 L336.64,244.43 L336.71,244.61 L336.78,244.79 L336.85,244.96 L336.92,245.14 L336.99,245.32 L337.07,245.50 L337.14,245.67 L337.21,245.85 L337.28,246.03 L337.35,246.21 L337.42,246.38 L337.49,246.56 L337.56,246.74 L337.64,246.92 L337.71,247.09 L337.78,247.27 L337.85,247.45 L337.92,247.63 L337.99,247.81 L338.06,247.98 L338.14,248.16 L338.21,248.34 L338.28,248.52 L338.35,248.70 L338.42,248.87 L338.49,249.05 L338.56,249.23 L338.64,249.41 L338.71,249.59 L338.78,249.77 L338.85,249.30 L338.92,248.14 L338.99,246.97 L339.06,245.80 L339.14,244.64 L339.21,243.86 L339.28,244.03 L339.35,244.20 L339.42,244.37 L339.49,244.53 L339.56,244.70 L339.64,244.87 L339.71,245.04 L339.78,245.20 L339.85,245.37 L339.92,245.54 L339.99,245.71 L340.06,245.87 L340.14,246.04 L340.21,246.21 L340.28,246.38 L340.35,246.55 L340.42,246.71 L340.49,246.88 L340.56,247.05 L340.64,247.22 L340.71,247.39 L340.78,247.55 L340.85,247.72 L340.92,247.89 L340.99,248.06 L341.06,248.23 L341.13,248.40 L341.21,248.57 L341.28,248.73 L341.35,248.90 L341.42,249.07 L341.49,249.24 L341.56,249.41 L341.63,249.58 L341.71,249.75 L341.78,249.91 L341.85,249.86 L341.92,248.58 L341.99,247.31 L342.06,246.03 L342.13,244.76 L342.21,243.91 L342.28,244.10 L342.35,244.28 L342.42,244.46 L342.49,244.64 L342.56,244.82 L342.63,245.01 L342.71,245.19 L342.78,245.37 L342.85,245.55 L342.92,245.74 L342.99,245.92 L343.06,246.10 L343.13,246.28 L343.21,246.47 L343.28,246.65 L343.35,246.83 L343.42,247.01 L343.49,247.18 L343.56,247.36 L343.63,247.54 L343.71,247.72 L343.78,247.90 L343.85,248.08 L343.92,248.26 L343.99,248.44 L344.06,248.62 L344.13,248.80 L344.21,248.98 L344.28,249.16 L344.35,249.34 L344.42,249.52 L344.49,249.70 L344.56,249.88 L344.63,250.06 L344.70,250.24 L344.78,250.42 L344.85,249.77 L344.92,248.64 L344.99,247.51 L345.06,246.39 L345.13,245.26 L345.20,244.51 L345.28,244.67 L345.35,244.83 L345.42,244.98 L345.49,245.14 L345.56,245.30 L345.63,245.46 L345.70,245.62 L345.78,245.78 L345.85,245.93 L345.92,246.09 L345.99,246.25 L346.06,246.41 L346.13,246.57 L346.20,246.73 L346.28,246.89 L346.35,247.05 L346.42,247.20 L346.49,247.36 L346.56,247.52 L346.63,247.68 L346.70,247.84 L346.78,248.00 L346.85,248.16 L346.92,248.32 L346.99,248.48 L347.06,248.64 L347.13,248.80 L347.20,248.96 L347.28,249.11 L347.35,249.27 L347.42,249.43 L347.49,249.59 L347.56,249.75 L347.63,249.91 L347.70,250.07 L347.78,250.23 L347.85,250.33 L347.92,249.03 L347.99,247.72 L348.06,246.42 L348.13,245.11 L348.20,244.24 L348.27,244.43 L348.35,244.61 L348.42,244.79 L348.49,244.97 L348.56,245.16 L348.63,245.34 L348.70,245.52 L348.77,245.70 L348.85,245.89 L348.92,246.07 L348.99,246.25 L349.06,246.44 L349.13,246.62 L349.20,246.80 L349.27,246.98 L349.35,247.17 L349.42,247.35 L349.49,247.53 L349.56,247.72 L349.63,247.90 L349.70,248.08 L349.77,248.27 L349.85,248.45 L349.92,248.63 L349.99,248.82 L350.06,249.00 L350.13,249.19 L350.20,249.37 L350.27,249.55 L350.35,249.74 L350.42,249.92 L350.49,250.10 L350.56,250.29 L350.63,250.47 L350.70,250.66 L350.77,250.84 L350.85,250.56 L350.92,249.23 L350.99,247.90 L351.06,246.57 L351.13,245.24 L351.20,244.36 L351.27,244.55 L351.35,244.73 L351.42,244.92 L351.49,245.10 L351.56,245.29 L351.63,245.48 L351.70,245.66 L351.77,245.85 L351.84,246.03 L351.92,246.22 L351.99,246.41 L352.06,246.59 L352.13,246.78 L352.20,246.96 L352.27,247.15 L352.34,247.34 L352.42,247.52 L352.49,247.71 L352.56,247.90 L352.63,248.08 L352.70,248.27 L352.77,248.45 L352.84,248.64 L352.92,248.83 L352.99,249.01 L353.06,249.20 L353.13,249.39 L353.20,249.57 L353.27,249.76 L353.34,249.95 L353.42,250.13 L353.49,250.32 L353.56,250.51 L353.63,250.70 L353.70,250.88 L353.77,251.07 L353.84,249.98 L353.92,249.00 L353.99,248.01 L354.06,247.03 L354.13,246.04 L354.20,245.39 L354.27,245.53 L354.34,245.67 L354.42,245.80 L354.49,245.94 L354.56,246.08 L354.63,246.22 L354.70,246.36 L354.77,246.50 L354.84,246.64 L354.92,246.78 L354.99,246.92 L355.06,247.06 L355.13,247.20 L355.20,247.34 L355.27,247.47 L355.34,247.61 L355.41,247.75 L355.49,247.89 L355.56,248.03 L355.63,248.17 L355.70,248.31 L355.77,248.45 L355.84,248.59 L355.91,248.73 L355.99,248.87 L356.06,249.01 L356.13,249.15 L356.20,249.29 L356.27,249.43 L356.34,249.57 L356.41,249.71 L356.49,249.85 L356.56,249.99 L356.63,250.13 L356.70,250.27 L356.77,250.41 L356.84,250.21 L356.91,249.20 L356.99,248.19 L357.06,247.17 L357.13,246.16" fill="none" stroke="#aa1239" stroke-width="1.0" stroke-linejoin="round" stroke-linecap="round" clip-path="url(#cBR)" />
<rect x="43.5" y="8.2" width="142.80" height="112.80" fill="none" stroke="#c4c4c4" stroke-width="1.25"/>
<line x1="43.50" y1="118.90" x2="43.50" y2="121.0" stroke="#7a7a7a" stroke-width="0.8"/>
<text transform="translate(40.93,131.90) rotate(0.05)" font-family='"Liberation Sans", sans-serif' font-size="9.5" fill="#111111" stroke="#111111" stroke-width="0.07" textLength="5.20" lengthAdjust="spacingAndGlyphs" >0</text>
<line x1="72.06" y1="118.90" x2="72.06" y2="121.0" stroke="#7a7a7a" stroke-width="0.8"/>
<text transform="translate(66.38,131.90) rotate(0.05)" font-family='"Liberation Sans", sans-serif' font-size="9.5" fill="#111111" stroke="#111111" stroke-width="0.07" textLength="11.03" lengthAdjust="spacingAndGlyphs" >10</text>
<line x1="100.62" y1="118.90" x2="100.62" y2="121.0" stroke="#7a7a7a" stroke-width="0.8"/>
<text transform="translate(94.96,131.90) rotate(0.05)" font-family='"Liberation Sans", sans-serif' font-size="9.5" fill="#111111" stroke="#111111" stroke-width="0.07" textLength="11.17" lengthAdjust="spacingAndGlyphs" >20</text>
<line x1="129.18" y1="118.90" x2="129.18" y2="121.0" stroke="#7a7a7a" stroke-width="0.8"/>
<text transform="translate(123.74,131.90) rotate(0.05)" font-family='"Liberation Sans", sans-serif' font-size="9.5" fill="#111111" stroke="#111111" stroke-width="0.07" textLength="10.93" lengthAdjust="spacingAndGlyphs" >30</text>
<line x1="157.74" y1="118.90" x2="157.74" y2="121.0" stroke="#7a7a7a" stroke-width="0.8"/>
<text transform="translate(152.28,131.90) rotate(0.05)" font-family='"Liberation Sans", sans-serif' font-size="9.5" fill="#111111" stroke="#111111" stroke-width="0.07" textLength="11.09" lengthAdjust="spacingAndGlyphs" >40</text>
<line x1="186.30" y1="118.90" x2="186.30" y2="121.0" stroke="#7a7a7a" stroke-width="0.8"/>
<text transform="translate(180.77,131.90) rotate(0.05)" font-family='"Liberation Sans", sans-serif' font-size="9.5" fill="#111111" stroke="#111111" stroke-width="0.07" textLength="11.03" lengthAdjust="spacingAndGlyphs" >50</text>
<line x1="42.00" y1="119.62" x2="43.5" y2="119.62" stroke="#7a7a7a" stroke-width="0.6"/>
<line x1="42.00" y1="116.62" x2="43.5" y2="116.62" stroke="#7a7a7a" stroke-width="0.6"/>
<line x1="42.00" y1="114.17" x2="43.5" y2="114.17" stroke="#7a7a7a" stroke-width="0.6"/>
<line x1="42.00" y1="112.10" x2="43.5" y2="112.10" stroke="#7a7a7a" stroke-width="0.6"/>
<line x1="42.00" y1="110.30" x2="43.5" y2="110.30" stroke="#7a7a7a" stroke-width="0.6"/>
<line x1="42.00" y1="108.72" x2="43.5" y2="108.72" stroke="#7a7a7a" stroke-width="0.6"/>
<line x1="40.90" y1="107.30" x2="43.5" y2="107.30" stroke="#7a7a7a" stroke-width="0.8"/>
<line x1="42.00" y1="97.98" x2="43.5" y2="97.98" stroke="#7a7a7a" stroke-width="0.6"/>
<line x1="42.00" y1="92.53" x2="43.5" y2="92.53" stroke="#7a7a7a" stroke-width="0.6"/>
<line x1="42.00" y1="88.66" x2="43.5" y2="88.66" stroke="#7a7a7a" stroke-width="0.6"/>
<line x1="42.00" y1="85.66" x2="43.5" y2="85.66" stroke="#7a7a7a" stroke-width="0.6"/>
<line x1="42.00" y1="83.20" x2="43.5" y2="83.20" stroke="#7a7a7a" stroke-width="0.6"/>
<line x1="42.00" y1="81.13" x2="43.5" y2="81.13" stroke="#7a7a7a" stroke-width="0.6"/>
<line x1="42.00" y1="79.33" x2="43.5" y2="79.33" stroke="#7a7a7a" stroke-width="0.6"/>
<line x1="42.00" y1="77.75" x2="43.5" y2="77.75" stroke="#7a7a7a" stroke-width="0.6"/>
<line x1="40.90" y1="76.33" x2="43.5" y2="76.33" stroke="#7a7a7a" stroke-width="0.8"/>
<line x1="42.00" y1="67.01" x2="43.5" y2="67.01" stroke="#7a7a7a" stroke-width="0.6"/>
<line x1="42.00" y1="61.56" x2="43.5" y2="61.56" stroke="#7a7a7a" stroke-width="0.6"/>
<line x1="42.00" y1="57.69" x2="43.5" y2="57.69" stroke="#7a7a7a" stroke-width="0.6"/>
<line x1="42.00" y1="54.69" x2="43.5" y2="54.69" stroke="#7a7a7a" stroke-width="0.6"/>
<line x1="42.00" y1="52.24" x2="43.5" y2="52.24" stroke="#7a7a7a" stroke-width="0.6"/>
<line x1="42.00" y1="50.16" x2="43.5" y2="50.16" stroke="#7a7a7a" stroke-width="0.6"/>
<line x1="42.00" y1="48.37" x2="43.5" y2="48.37" stroke="#7a7a7a" stroke-width="0.6"/>
<line x1="42.00" y1="46.78" x2="43.5" y2="46.78" stroke="#7a7a7a" stroke-width="0.6"/>
<line x1="40.90" y1="45.37" x2="43.5" y2="45.37" stroke="#7a7a7a" stroke-width="0.8"/>
<line x1="42.00" y1="36.04" x2="43.5" y2="36.04" stroke="#7a7a7a" stroke-width="0.6"/>
<line x1="42.00" y1="30.59" x2="43.5" y2="30.59" stroke="#7a7a7a" stroke-width="0.6"/>
<line x1="42.00" y1="26.72" x2="43.5" y2="26.72" stroke="#7a7a7a" stroke-width="0.6"/>
<line x1="42.00" y1="23.72" x2="43.5" y2="23.72" stroke="#7a7a7a" stroke-width="0.6"/>
<line x1="42.00" y1="21.27" x2="43.5" y2="21.27" stroke="#7a7a7a" stroke-width="0.6"/>
<line x1="42.00" y1="19.20" x2="43.5" y2="19.20" stroke="#7a7a7a" stroke-width="0.6"/>
<line x1="42.00" y1="17.40" x2="43.5" y2="17.40" stroke="#7a7a7a" stroke-width="0.6"/>
<line x1="42.00" y1="15.82" x2="43.5" y2="15.82" stroke="#7a7a7a" stroke-width="0.6"/>
<line x1="40.90" y1="14.40" x2="43.5" y2="14.40" stroke="#7a7a7a" stroke-width="0.8"/>
<text transform="translate(23.46,17.50) rotate(0.05)" font-family='"Liberation Sans", sans-serif' font-size="9.3" fill="#111111" stroke="#111111" stroke-width="0.07" textLength="10.79" lengthAdjust="spacingAndGlyphs" >10</text>
<text transform="translate(34.78,14.20) rotate(0.05)" font-family='"Liberation Sans", sans-serif' font-size="6.65" fill="#111111" stroke="#111111" stroke-width="0.0" textLength="3.69" lengthAdjust="spacingAndGlyphs" >4</text>
<text transform="translate(23.46,48.70) rotate(0.05)" font-family='"Liberation Sans", sans-serif' font-size="9.3" fill="#111111" stroke="#111111" stroke-width="0.07" textLength="10.79" lengthAdjust="spacingAndGlyphs" >10</text>
<text transform="translate(35.06,45.40) rotate(0.05)" font-family='"Liberation Sans", sans-serif' font-size="6.65" fill="#111111" stroke="#111111" stroke-width="0.0" textLength="3.47" lengthAdjust="spacingAndGlyphs" >3</text>
<text transform="translate(23.46,79.45) rotate(0.05)" font-family='"Liberation Sans", sans-serif' font-size="9.3" fill="#111111" stroke="#111111" stroke-width="0.07" textLength="10.79" lengthAdjust="spacingAndGlyphs" >10</text>
<text transform="translate(35.03,76.15) rotate(0.05)" font-family='"Liberation Sans", sans-serif' font-size="6.65" fill="#111111" stroke="#111111" stroke-width="0.0" textLength="3.56" lengthAdjust="spacingAndGlyphs" >2</text>
<text transform="translate(23.46,110.40) rotate(0.05)" font-family='"Liberation Sans", sans-serif' font-size="9.3" fill="#111111" stroke="#111111" stroke-width="0.07" textLength="10.79" lengthAdjust="spacingAndGlyphs" >10</text>
<text transform="translate(35.10,107.10) rotate(0.05)" font-family='"Liberation Sans", sans-serif' font-size="6.65" fill="#111111" stroke="#111111" stroke-width="0.0" textLength="3.49" lengthAdjust="spacingAndGlyphs" >1</text>
<rect x="214.4" y="8.2" width="142.80" height="112.80" fill="none" stroke="#c4c4c4" stroke-width="1.25"/>
<line x1="214.40" y1="118.90" x2="214.40" y2="121.0" stroke="#7a7a7a" stroke-width="0.8"/>
<text transform="translate(211.83,131.90) rotate(0.05)" font-family='"Liberation Sans", sans-serif' font-size="9.5" fill="#111111" stroke="#111111" stroke-width="0.07" textLength="5.20" lengthAdjust="spacingAndGlyphs" >0</text>
<line x1="242.96" y1="118.90" x2="242.96" y2="121.0" stroke="#7a7a7a" stroke-width="0.8"/>
<text transform="translate(234.37,131.90) rotate(0.05)" font-family='"Liberation Sans", sans-serif' font-size="9.5" fill="#111111" stroke="#111111" stroke-width="0.07" textLength="16.84" lengthAdjust="spacingAndGlyphs" >100</text>
<line x1="271.52" y1="118.90" x2="271.52" y2="121.0" stroke="#7a7a7a" stroke-width="0.8"/>
<text transform="translate(262.96,131.90) rotate(0.05)" font-family='"Liberation Sans", sans-serif' font-size="9.5" fill="#111111" stroke="#111111" stroke-width="0.07" textLength="16.97" lengthAdjust="spacingAndGlyphs" >200</text>
<line x1="300.08" y1="118.90" x2="300.08" y2="121.0" stroke="#7a7a7a" stroke-width="0.8"/>
<text transform="translate(291.74,131.90) rotate(0.05)" font-family='"Liberation Sans", sans-serif' font-size="9.5" fill="#111111" stroke="#111111" stroke-width="0.07" textLength="16.73" lengthAdjust="spacingAndGlyphs" >300</text>
<line x1="328.64" y1="118.90" x2="328.64" y2="121.0" stroke="#7a7a7a" stroke-width="0.8"/>
<text transform="translate(320.28,131.90) rotate(0.05)" font-family='"Liberation Sans", sans-serif' font-size="9.5" fill="#111111" stroke="#111111" stroke-width="0.07" textLength="16.89" lengthAdjust="spacingAndGlyphs" >400</text>
<line x1="357.20" y1="118.90" x2="357.20" y2="121.0" stroke="#7a7a7a" stroke-width="0.8"/>
<text transform="translate(348.77,131.90) rotate(0.05)" font-family='"Liberation Sans", sans-serif' font-size="9.5" fill="#111111" stroke="#111111" stroke-width="0.07" textLength="16.83" lengthAdjust="spacingAndGlyphs" >500</text>
<line x1="212.90" y1="117.84" x2="214.4" y2="117.84" stroke="#7a7a7a" stroke-width="0.6"/>
<line x1="212.90" y1="111.96" x2="214.4" y2="111.96" stroke="#7a7a7a" stroke-width="0.6"/>
<line x1="212.90" y1="106.99" x2="214.4" y2="106.99" stroke="#7a7a7a" stroke-width="0.6"/>
<line x1="212.90" y1="102.69" x2="214.4" y2="102.69" stroke="#7a7a7a" stroke-width="0.6"/>
<line x1="212.90" y1="98.90" x2="214.4" y2="98.90" stroke="#7a7a7a" stroke-width="0.6"/>
<line x1="211.80" y1="95.50" x2="214.4" y2="95.50" stroke="#7a7a7a" stroke-width="0.8"/>
<line x1="212.90" y1="73.16" x2="214.4" y2="73.16" stroke="#7a7a7a" stroke-width="0.6"/>
<line x1="212.90" y1="60.10" x2="214.4" y2="60.10" stroke="#7a7a7a" stroke-width="0.6"/>
<line x1="212.90" y1="50.83" x2="214.4" y2="50.83" stroke="#7a7a7a" stroke-width="0.6"/>
<line x1="212.90" y1="43.64" x2="214.4" y2="43.64" stroke="#7a7a7a" stroke-width="0.6"/>
<line x1="212.90" y1="37.76" x2="214.4" y2="37.76" stroke="#7a7a7a" stroke-width="0.6"/>
<line x1="212.90" y1="32.79" x2="214.4" y2="32.79" stroke="#7a7a7a" stroke-width="0.6"/>
<line x1="212.90" y1="28.49" x2="214.4" y2="28.49" stroke="#7a7a7a" stroke-width="0.6"/>
<line x1="212.90" y1="24.70" x2="214.4" y2="24.70" stroke="#7a7a7a" stroke-width="0.6"/>
<line x1="211.80" y1="21.30" x2="214.4" y2="21.30" stroke="#7a7a7a" stroke-width="0.8"/>
<text transform="translate(194.36,24.40) rotate(0.05)" font-family='"Liberation Sans", sans-serif' font-size="9.3" fill="#111111" stroke="#111111" stroke-width="0.07" textLength="10.79" lengthAdjust="spacingAndGlyphs" >10</text>
<text transform="translate(205.93,21.10) rotate(0.05)" font-family='"Liberation Sans", sans-serif' font-size="6.65" fill="#111111" stroke="#111111" stroke-width="0.0" textLength="3.56" lengthAdjust="spacingAndGlyphs" >2</text>
<text transform="translate(194.36,98.60) rotate(0.05)" font-family='"Liberation Sans", sans-serif' font-size="9.3" fill="#111111" stroke="#111111" stroke-width="0.07" textLength="10.79" lengthAdjust="spacingAndGlyphs" >10</text>
<text transform="translate(206.00,95.30) rotate(0.05)" font-family='"Liberation Sans", sans-serif' font-size="6.65" fill="#111111" stroke="#111111" stroke-width="0.0" textLength="3.49" lengthAdjust="spacingAndGlyphs" >1</text>
<rect x="43.5" y="143.6" width="142.80" height="112.90" fill="none" stroke="#c4c4c4" stroke-width="1.25"/>
<line x1="43.50" y1="254.40" x2="43.50" y2="256.5" stroke="#7a7a7a" stroke-width="0.8"/>
<text transform="translate(40.93,267.40) rotate(0.05)" font-family='"Liberation Sans", sans-serif' font-size="9.5" fill="#111111" stroke="#111111" stroke-width="0.07" textLength="5.20" lengthAdjust="spacingAndGlyphs" >0</text>
<line x1="72.06" y1="254.40" x2="72.06" y2="256.5" stroke="#7a7a7a" stroke-width="0.8"/>
<text transform="translate(66.38,267.40) rotate(0.05)" font-family='"Liberation Sans", sans-serif' font-size="9.5" fill="#111111" stroke="#111111" stroke-width="0.07" textLength="11.03" lengthAdjust="spacingAndGlyphs" >10</text>
<line x1="100.62" y1="254.40" x2="100.62" y2="256.5" stroke="#7a7a7a" stroke-width="0.8"/>
<text transform="translate(94.96,267.40) rotate(0.05)" font-family='"Liberation Sans", sans-serif' font-size="9.5" fill="#111111" stroke="#111111" stroke-width="0.07" textLength="11.17" lengthAdjust="spacingAndGlyphs" >20</text>
<line x1="129.18" y1="254.40" x2="129.18" y2="256.5" stroke="#7a7a7a" stroke-width="0.8"/>
<text transform="translate(123.74,267.40) rotate(0.05)" font-family='"Liberation Sans", sans-serif' font-size="9.5" fill="#111111" stroke="#111111" stroke-width="0.07" textLength="10.93" lengthAdjust="spacingAndGlyphs" >30</text>
<line x1="157.74" y1="254.40" x2="157.74" y2="256.5" stroke="#7a7a7a" stroke-width="0.8"/>
<text transform="translate(152.28,267.40) rotate(0.05)" font-family='"Liberation Sans", sans-serif' font-size="9.5" fill="#111111" stroke="#111111" stroke-width="0.07" textLength="11.09" lengthAdjust="spacingAndGlyphs" >40</text>
<line x1="186.30" y1="254.40" x2="186.30" y2="256.5" stroke="#7a7a7a" stroke-width="0.8"/>
<text transform="translate(180.77,267.40) rotate(0.05)" font-family='"Liberation Sans", sans-serif' font-size="9.5" fill="#111111" stroke="#111111" stroke-width="0.07" textLength="11.03" lengthAdjust="spacingAndGlyphs" >50</text>
<line x1="42.00" y1="249.08" x2="43.5" y2="249.08" stroke="#7a7a7a" stroke-width="0.6"/>
<line x1="42.00" y1="243.92" x2="43.5" y2="243.92" stroke="#7a7a7a" stroke-width="0.6"/>
<line x1="42.00" y1="240.26" x2="43.5" y2="240.26" stroke="#7a7a7a" stroke-width="0.6"/>
<line x1="42.00" y1="237.42" x2="43.5" y2="237.42" stroke="#7a7a7a" stroke-width="0.6"/>
<line x1="42.00" y1="235.10" x2="43.5" y2="235.10" stroke="#7a7a7a" stroke-width="0.6"/>
<line x1="42.00" y1="233.14" x2="43.5" y2="233.14" stroke="#7a7a7a" stroke-width="0.6"/>
<line x1="42.00" y1="231.44" x2="43.5" y2="231.44" stroke="#7a7a7a" stroke-width="0.6"/>
<line x1="42.00" y1="229.94" x2="43.5" y2="229.94" stroke="#7a7a7a" stroke-width="0.6"/>
<line x1="40.90" y1="228.60" x2="43.5" y2="228.60" stroke="#7a7a7a" stroke-width="0.8"/>
<line x1="42.00" y1="219.78" x2="43.5" y2="219.78" stroke="#7a7a7a" stroke-width="0.6"/>
<line x1="42.00" y1="214.62" x2="43.5" y2="214.62" stroke="#7a7a7a" stroke-width="0.6"/>
<line x1="42.00" y1="210.96" x2="43.5" y2="210.96" stroke="#7a7a7a" stroke-width="0.6"/>
<line x1="42.00" y1="208.12" x2="43.5" y2="208.12" stroke="#7a7a7a" stroke-width="0.6"/>
<line x1="42.00" y1="205.80" x2="43.5" y2="205.80" stroke="#7a7a7a" stroke-width="0.6"/>
<line x1="42.00" y1="203.84" x2="43.5" y2="203.84" stroke="#7a7a7a" stroke-width="0.6"/>
<line x1="42.00" y1="202.14" x2="43.5" y2="202.14" stroke="#7a7a7a" stroke-width="0.6"/>
<line x1="42.00" y1="200.64" x2="43.5" y2="200.64" stroke="#7a7a7a" stroke-width="0.6"/>
<line x1="40.90" y1="199.30" x2="43.5" y2="199.30" stroke="#7a7a7a" stroke-width="0.8"/>
<line x1="42.00" y1="190.48" x2="43.5" y2="190.48" stroke="#7a7a7a" stroke-width="0.6"/>
<line x1="42.00" y1="185.32" x2="43.5" y2="185.32" stroke="#7a7a7a" stroke-width="0.6"/>
<line x1="42.00" y1="181.66" x2="43.5" y2="181.66" stroke="#7a7a7a" stroke-width="0.6"/>
<line x1="42.00" y1="178.82" x2="43.5" y2="178.82" stroke="#7a7a7a" stroke-width="0.6"/>
<line x1="42.00" y1="176.50" x2="43.5" y2="176.50" stroke="#7a7a7a" stroke-width="0.6"/>
<line x1="42.00" y1="174.54" x2="43.5" y2="174.54" stroke="#7a7a7a" stroke-width="0.6"/>
<line x1="42.00" y1="172.84" x2="43.5" y2="172.84" stroke="#7a7a7a" stroke-width="0.6"/>
<line x1="42.00" y1="171.34" x2="43.5" y2="171.34" stroke="#7a7a7a" stroke-width="0.6"/>
<line x1="40.90" y1="170.00" x2="43.5" y2="170.00" stroke="#7a7a7a" stroke-width="0.8"/>
<line x1="42.00" y1="161.18" x2="43.5" y2="161.18" stroke="#7a7a7a" stroke-width="0.6"/>
<line x1="42.00" y1="156.02" x2="43.5" y2="156.02" stroke="#7a7a7a" stroke-width="0.6"/>
<line x1="42.00" y1="152.36" x2="43.5" y2="152.36" stroke="#7a7a7a" stroke-width="0.6"/>
<line x1="42.00" y1="149.52" x2="43.5" y2="149.52" stroke="#7a7a7a" stroke-width="0.6"/>
<line x1="42.00" y1="147.20" x2="43.5" y2="147.20" stroke="#7a7a7a" stroke-width="0.6"/>
<line x1="42.00" y1="145.24" x2="43.5" y2="145.24" stroke="#7a7a7a" stroke-width="0.6"/>
<line x1="42.00" y1="143.54" x2="43.5" y2="143.54" stroke="#7a7a7a" stroke-width="0.6"/>
<text transform="translate(23.46,173.10) rotate(0.05)" font-family='"Liberation Sans", sans-serif' font-size="9.3" fill="#111111" stroke="#111111" stroke-width="0.07" textLength="10.79" lengthAdjust="spacingAndGlyphs" >10</text>
<text transform="translate(35.06,169.80) rotate(0.05)" font-family='"Liberation Sans", sans-serif' font-size="6.65" fill="#111111" stroke="#111111" stroke-width="0.0" textLength="3.47" lengthAdjust="spacingAndGlyphs" >3</text>
<text transform="translate(23.46,202.30) rotate(0.05)" font-family='"Liberation Sans", sans-serif' font-size="9.3" fill="#111111" stroke="#111111" stroke-width="0.07" textLength="10.79" lengthAdjust="spacingAndGlyphs" >10</text>
<text transform="translate(35.03,199.00) rotate(0.05)" font-family='"Liberation Sans", sans-serif' font-size="6.65" fill="#111111" stroke="#111111" stroke-width="0.0" textLength="3.56" lengthAdjust="spacingAndGlyphs" >2</text>
<text transform="translate(23.46,231.70) rotate(0.05)" font-family='"Liberation Sans", sans-serif' font-size="9.3" fill="#111111" stroke="#111111" stroke-width="0.07" textLength="10.79" lengthAdjust="spacingAndGlyphs" >10</text>
<text transform="translate(35.10,228.40) rotate(0.05)" font-family='"Liberation Sans", sans-serif' font-size="6.65" fill="#111111" stroke="#111111" stroke-width="0.0" textLength="3.49" lengthAdjust="spacingAndGlyphs" >1</text>
<rect x="214.4" y="143.6" width="142.80" height="112.90" fill="none" stroke="#c4c4c4" stroke-width="1.25"/>
<line x1="214.40" y1="254.40" x2="214.40" y2="256.5" stroke="#7a7a7a" stroke-width="0.8"/>
<text transform="translate(211.83,267.40) rotate(0.05)" font-family='"Liberation Sans", sans-serif' font-size="9.5" fill="#111111" stroke="#111111" stroke-width="0.07" textLength="5.20" lengthAdjust="spacingAndGlyphs" >0</text>
<line x1="242.96" y1="254.40" x2="242.96" y2="256.5" stroke="#7a7a7a" stroke-width="0.8"/>
<text transform="translate(234.37,267.40) rotate(0.05)" font-family='"Liberation Sans", sans-serif' font-size="9.5" fill="#111111" stroke="#111111" stroke-width="0.07" textLength="16.84" lengthAdjust="spacingAndGlyphs" >100</text>
<line x1="271.52" y1="254.40" x2="271.52" y2="256.5" stroke="#7a7a7a" stroke-width="0.8"/>
<text transform="translate(262.96,267.40) rotate(0.05)" font-family='"Liberation Sans", sans-serif' font-size="9.5" fill="#111111" stroke="#111111" stroke-width="0.07" textLength="16.97" lengthAdjust="spacingAndGlyphs" >200</text>
<line x1="300.08" y1="254.40" x2="300.08" y2="256.5" stroke="#7a7a7a" stroke-width="0.8"/>
<text transform="translate(291.74,267.40) rotate(0.05)" font-family='"Liberation Sans", sans-serif' font-size="9.5" fill="#111111" stroke="#111111" stroke-width="0.07" textLength="16.73" lengthAdjust="spacingAndGlyphs" >300</text>
<line x1="328.64" y1="254.40" x2="328.64" y2="256.5" stroke="#7a7a7a" stroke-width="0.8"/>
<text transform="translate(320.28,267.40) rotate(0.05)" font-family='"Liberation Sans", sans-serif' font-size="9.5" fill="#111111" stroke="#111111" stroke-width="0.07" textLength="16.89" lengthAdjust="spacingAndGlyphs" >400</text>
<line x1="357.20" y1="254.40" x2="357.20" y2="256.5" stroke="#7a7a7a" stroke-width="0.8"/>
<text transform="translate(348.77,267.40) rotate(0.05)" font-family='"Liberation Sans", sans-serif' font-size="9.5" fill="#111111" stroke="#111111" stroke-width="0.07" textLength="16.83" lengthAdjust="spacingAndGlyphs" >500</text>
<line x1="212.90" y1="256.31" x2="214.4" y2="256.31" stroke="#7a7a7a" stroke-width="0.6"/>
<line x1="212.90" y1="252.14" x2="214.4" y2="252.14" stroke="#7a7a7a" stroke-width="0.6"/>
<line x1="212.90" y1="248.74" x2="214.4" y2="248.74" stroke="#7a7a7a" stroke-width="0.6"/>
<line x1="212.90" y1="245.86" x2="214.4" y2="245.86" stroke="#7a7a7a" stroke-width="0.6"/>
<line x1="212.90" y1="243.37" x2="214.4" y2="243.37" stroke="#7a7a7a" stroke-width="0.6"/>
<line x1="212.90" y1="241.17" x2="214.4" y2="241.17" stroke="#7a7a7a" stroke-width="0.6"/>
<line x1="211.80" y1="239.20" x2="214.4" y2="239.20" stroke="#7a7a7a" stroke-width="0.8"/>
<line x1="212.90" y1="226.26" x2="214.4" y2="226.26" stroke="#7a7a7a" stroke-width="0.6"/>
<line x1="212.90" y1="218.68" x2="214.4" y2="218.68" stroke="#7a7a7a" stroke-width="0.6"/>
<line x1="212.90" y1="213.31" x2="214.4" y2="213.31" stroke="#7a7a7a" stroke-width="0.6"/>
<line x1="212.90" y1="209.14" x2="214.4" y2="209.14" stroke="#7a7a7a" stroke-width="0.6"/>
<line x1="212.90" y1="205.74" x2="214.4" y2="205.74" stroke="#7a7a7a" stroke-width="0.6"/>
<line x1="212.90" y1="202.86" x2="214.4" y2="202.86" stroke="#7a7a7a" stroke-width="0.6"/>
<line x1="212.90" y1="200.37" x2="214.4" y2="200.37" stroke="#7a7a7a" stroke-width="0.6"/>
<line x1="212.90" y1="198.17" x2="214.4" y2="198.17" stroke="#7a7a7a" stroke-width="0.6"/>
<line x1="211.80" y1="196.20" x2="214.4" y2="196.20" stroke="#7a7a7a" stroke-width="0.8"/>
<line x1="212.90" y1="183.26" x2="214.4" y2="183.26" stroke="#7a7a7a" stroke-width="0.6"/>
<line x1="212.90" y1="175.68" x2="214.4" y2="175.68" stroke="#7a7a7a" stroke-width="0.6"/>
<line x1="212.90" y1="170.31" x2="214.4" y2="170.31" stroke="#7a7a7a" stroke-width="0.6"/>
<line x1="212.90" y1="166.14" x2="214.4" y2="166.14" stroke="#7a7a7a" stroke-width="0.6"/>
<line x1="212.90" y1="162.74" x2="214.4" y2="162.74" stroke="#7a7a7a" stroke-width="0.6"/>
<line x1="212.90" y1="159.86" x2="214.4" y2="159.86" stroke="#7a7a7a" stroke-width="0.6"/>
<line x1="212.90" y1="157.37" x2="214.4" y2="157.37" stroke="#7a7a7a" stroke-width="0.6"/>
<line x1="212.90" y1="155.17" x2="214.4" y2="155.17" stroke="#7a7a7a" stroke-width="0.6"/>
<line x1="211.80" y1="153.20" x2="214.4" y2="153.20" stroke="#7a7a7a" stroke-width="0.8"/>
<text transform="translate(194.36,156.30) rotate(0.05)" font-family='"Liberation Sans", sans-serif' font-size="9.3" fill="#111111" stroke="#111111" stroke-width="0.07" textLength="10.79" lengthAdjust="spacingAndGlyphs" >10</text>
<text transform="translate(205.93,153.00) rotate(0.05)" font-family='"Liberation Sans", sans-serif' font-size="6.65" fill="#111111" stroke="#111111" stroke-width="0.0" textLength="3.56" lengthAdjust="spacingAndGlyphs" >2</text>
<text transform="translate(194.36,199.20) rotate(0.05)" font-family='"Liberation Sans", sans-serif' font-size="9.3" fill="#111111" stroke="#111111" stroke-width="0.07" textLength="10.79" lengthAdjust="spacingAndGlyphs" >10</text>
<text transform="translate(206.00,195.90) rotate(0.05)" font-family='"Liberation Sans", sans-serif' font-size="6.65" fill="#111111" stroke="#111111" stroke-width="0.0" textLength="3.49" lengthAdjust="spacingAndGlyphs" >1</text>
<text transform="translate(194.36,242.30) rotate(0.05)" font-family='"Liberation Sans", sans-serif' font-size="9.3" fill="#111111" stroke="#111111" stroke-width="0.07" textLength="10.79" lengthAdjust="spacingAndGlyphs" >10</text>
<text transform="translate(205.79,239.00) rotate(0.05)" font-family='"Liberation Sans", sans-serif' font-size="6.65" fill="#111111" stroke="#111111" stroke-width="0.0" textLength="3.64" lengthAdjust="spacingAndGlyphs" >0</text>
<rect x="100.5" y="38.5" width="81.50" height="68.30" rx="2" ry="2" fill="#fff" fill-opacity="0.82" stroke="#dadada" stroke-width="0.8"/>
<line x1="103.7" y1="46.00" x2="122.7" y2="46.00" stroke="#5aa3d0" stroke-width="1.5"/>
<text transform="translate(128.78,49.00) rotate(0.05)" font-family='"Liberation Sans", sans-serif' font-size="9.5" fill="#111111" stroke="#111111" stroke-width="0.07" textLength="40.70" lengthAdjust="spacingAndGlyphs" >True Gap</text>
<line x1="103.7" y1="59.26" x2="122.7" y2="59.26" stroke="#b32a55" stroke-width="1.5"/>
<text transform="translate(129.09,62.26) rotate(0.05)" font-family='"Liberation Sans", sans-serif' font-size="9.5" fill="#111111" stroke="#111111" stroke-width="0.07" textLength="41.96" lengthAdjust="spacingAndGlyphs" >Lemma 2</text>
<line x1="103.7" y1="72.52" x2="122.7" y2="72.52" stroke="#7561ad" stroke-width="1.5"/>
<text transform="translate(129.07,75.52) rotate(0.05)" font-family='"Liberation Sans", sans-serif' font-size="9.5" fill="#111111" stroke="#111111" stroke-width="0.07" textLength="17.22" lengthAdjust="spacingAndGlyphs" >IWS</text>
<line x1="103.7" y1="85.78" x2="122.7" y2="85.78" stroke="#428030" stroke-width="1.5"/>
<text transform="translate(129.03,88.78) rotate(0.05)" font-family='"Liberation Sans", sans-serif' font-size="9.5" fill="#111111" stroke="#111111" stroke-width="0.07" textLength="29.60" lengthAdjust="spacingAndGlyphs" >IWB|W</text>
<line x1="103.7" y1="99.04" x2="122.7" y2="99.04" stroke="#e8863e" stroke-width="1.5"/>
<text transform="translate(128.77,102.04) rotate(0.05)" font-family='"Liberation Sans", sans-serif' font-size="9.5" fill="#111111" stroke="#111111" stroke-width="0.07" textLength="48.96" lengthAdjust="spacingAndGlyphs" >Theorem 2</text>
<rect x="100.8" y="174.5" width="80.90" height="68.10" rx="2" ry="2" fill="#fff" fill-opacity="0.82" stroke="#dadada" stroke-width="0.8"/>
<line x1="103.5" y1="181.60" x2="122.5" y2="181.60" stroke="#4e9fd2" stroke-width="1.5"/>
<text transform="translate(128.78,184.60) rotate(0.05)" font-family='"Liberation Sans", sans-serif' font-size="9.5" fill="#111111" stroke="#111111" stroke-width="0.07" textLength="40.70" lengthAdjust="spacingAndGlyphs" >True Gap</text>
<line x1="103.5" y1="194.86" x2="122.5" y2="194.86" stroke="#bd4068" stroke-width="1.5"/>
<text transform="translate(129.09,197.86) rotate(0.05)" font-family='"Liberation Sans", sans-serif' font-size="9.5" fill="#111111" stroke="#111111" stroke-width="0.07" textLength="42.05" lengthAdjust="spacingAndGlyphs" >Lemma 3</text>
<line x1="103.5" y1="208.12" x2="122.5" y2="208.12" stroke="#9c8cc8" stroke-width="1.5"/>
<text transform="translate(129.07,211.12) rotate(0.05)" font-family='"Liberation Sans", sans-serif' font-size="9.5" fill="#111111" stroke="#111111" stroke-width="0.07" textLength="17.22" lengthAdjust="spacingAndGlyphs" >IWS</text>
<line x1="103.5" y1="221.38" x2="122.5" y2="221.38" stroke="#4b8a33" stroke-width="1.5"/>
<text transform="translate(129.03,224.38) rotate(0.05)" font-family='"Liberation Sans", sans-serif' font-size="9.5" fill="#111111" stroke="#111111" stroke-width="0.07" textLength="29.60" lengthAdjust="spacingAndGlyphs" >IWB|W</text>
<line x1="103.5" y1="234.64" x2="122.5" y2="234.64" stroke="#e8863e" stroke-width="1.5"/>
<text transform="translate(128.77,237.64) rotate(0.05)" font-family='"Liberation Sans", sans-serif' font-size="9.5" fill="#111111" stroke="#111111" stroke-width="0.07" textLength="49.04" lengthAdjust="spacingAndGlyphs" >Theorem 3</text>
<rect x="297.1" y="148.4" width="55.6" height="29.4" rx="2" ry="2" fill="#fff" fill-opacity="0.82" stroke="#dadada" stroke-width="0.8"/>
<line x1="299.7" y1="155.7" x2="319" y2="155.7" stroke="#4a9ad0" stroke-width="1.1"/>
<line x1="299.7" y1="168.8" x2="319" y2="168.8" stroke="#b8244e" stroke-width="1.1"/>
<text transform="translate(325.27,158.50) rotate(0.05)" font-family='"Liberation Serif", serif' font-style="italic" font-size="8.4" fill="#111111" stroke="#111111" stroke-width="0.12" textLength="4.00" lengthAdjust="spacingAndGlyphs">θ</text>
<text transform="translate(329.25,159.50) rotate(0.05)" font-family='"Liberation Serif", serif' font-style="italic" font-size="5.6" fill="#111111" stroke="#111111" stroke-width="0.12" textLength="2.42" lengthAdjust="spacingAndGlyphs">v</text>
<text transform="translate(333.12,158.90) rotate(0.05)" font-family='"Liberation Serif", serif' font-size="9.8" fill="#111111" stroke="#111111" stroke-width="0.0" textLength="2.34" lengthAdjust="spacingAndGlyphs">(</text>
<text transform="translate(335.02,158.50) rotate(0.05)" font-family='"Liberation Serif", serif' font-style="italic" font-size="8.6" fill="#111111" stroke="#111111" stroke-width="0.12" textLength="5.83" lengthAdjust="spacingAndGlyphs">V</text>
<text transform="translate(340.31,160.00) rotate(0.05)" font-family='"Liberation Serif", serif' font-style="italic" font-size="5.6" fill="#111111" stroke="#111111" stroke-width="0.12" textLength="2.03" lengthAdjust="spacingAndGlyphs">t</text>
<text transform="translate(345.18,158.90) rotate(0.05)" font-family='"Liberation Serif", serif' font-size="9.8" fill="#111111" stroke="#111111" stroke-width="0.0" textLength="2.43" lengthAdjust="spacingAndGlyphs">)</text>
<text transform="translate(325.27,171.60) rotate(0.05)" font-family='"Liberation Serif", serif' font-style="italic" font-size="8.4" fill="#111111" stroke="#111111" stroke-width="0.12" textLength="4.00" lengthAdjust="spacingAndGlyphs">θ</text>
<text transform="translate(329.12,172.60) rotate(0.05)" font-family='"Liberation Serif", serif' font-style="italic" font-size="5.6" fill="#111111" stroke="#111111" stroke-width="0.12" textLength="2.60" lengthAdjust="spacingAndGlyphs">c</text>
<text transform="translate(333.12,172.00) rotate(0.05)" font-family='"Liberation Serif", serif' font-size="9.8" fill="#111111" stroke="#111111" stroke-width="0.0" textLength="2.34" lengthAdjust="spacingAndGlyphs">(</text>
<text transform="translate(335.02,171.60) rotate(0.05)" font-family='"Liberation Serif", serif' font-style="italic" font-size="8.6" fill="#111111" stroke="#111111" stroke-width="0.12" textLength="5.83" lengthAdjust="spacingAndGlyphs">V</text>
<text transform="translate(340.31,173.10) rotate(0.05)" font-family='"Liberation Serif", serif' font-style="italic" font-size="5.6" fill="#111111" stroke="#111111" stroke-width="0.12" textLength="2.03" lengthAdjust="spacingAndGlyphs">t</text>
<text transform="translate(345.18,172.00) rotate(0.05)" font-family='"Liberation Serif", serif' font-size="9.8" fill="#111111" stroke="#111111" stroke-width="0.0" textLength="2.43" lengthAdjust="spacingAndGlyphs">)</text>
<text transform="translate(98.43,282.00) rotate(0.05)" font-family='"Liberation Sans", sans-serif' font-size="11.5" fill="#111111" stroke="#111111" stroke-width="0.0" textLength="33.13" lengthAdjust="spacingAndGlyphs" >epoch</text>
<text transform="translate(274.36,282.00) rotate(0.05)" font-family='"Liberation Sans", sans-serif' font-size="11.5" fill="#111111" stroke="#111111" stroke-width="0.0" textLength="23.29" lengthAdjust="spacingAndGlyphs" >step</text>
<text transform="translate(16.50,79.50) rotate(-89.95)" font-family='"Liberation Sans", sans-serif' font-size="11.5" fill="#111111" stroke="#111111" stroke-width="0.0" textLength="29.62" lengthAdjust="spacingAndGlyphs" >SGLD</text>
<text transform="translate(16.50,211.53) rotate(-89.95)" font-family='"Liberation Sans", sans-serif' font-size="11.5" fill="#111111" stroke="#111111" stroke-width="0.0" textLength="23.49" lengthAdjust="spacingAndGlyphs" >SGD</text>
</svg></body></html>
